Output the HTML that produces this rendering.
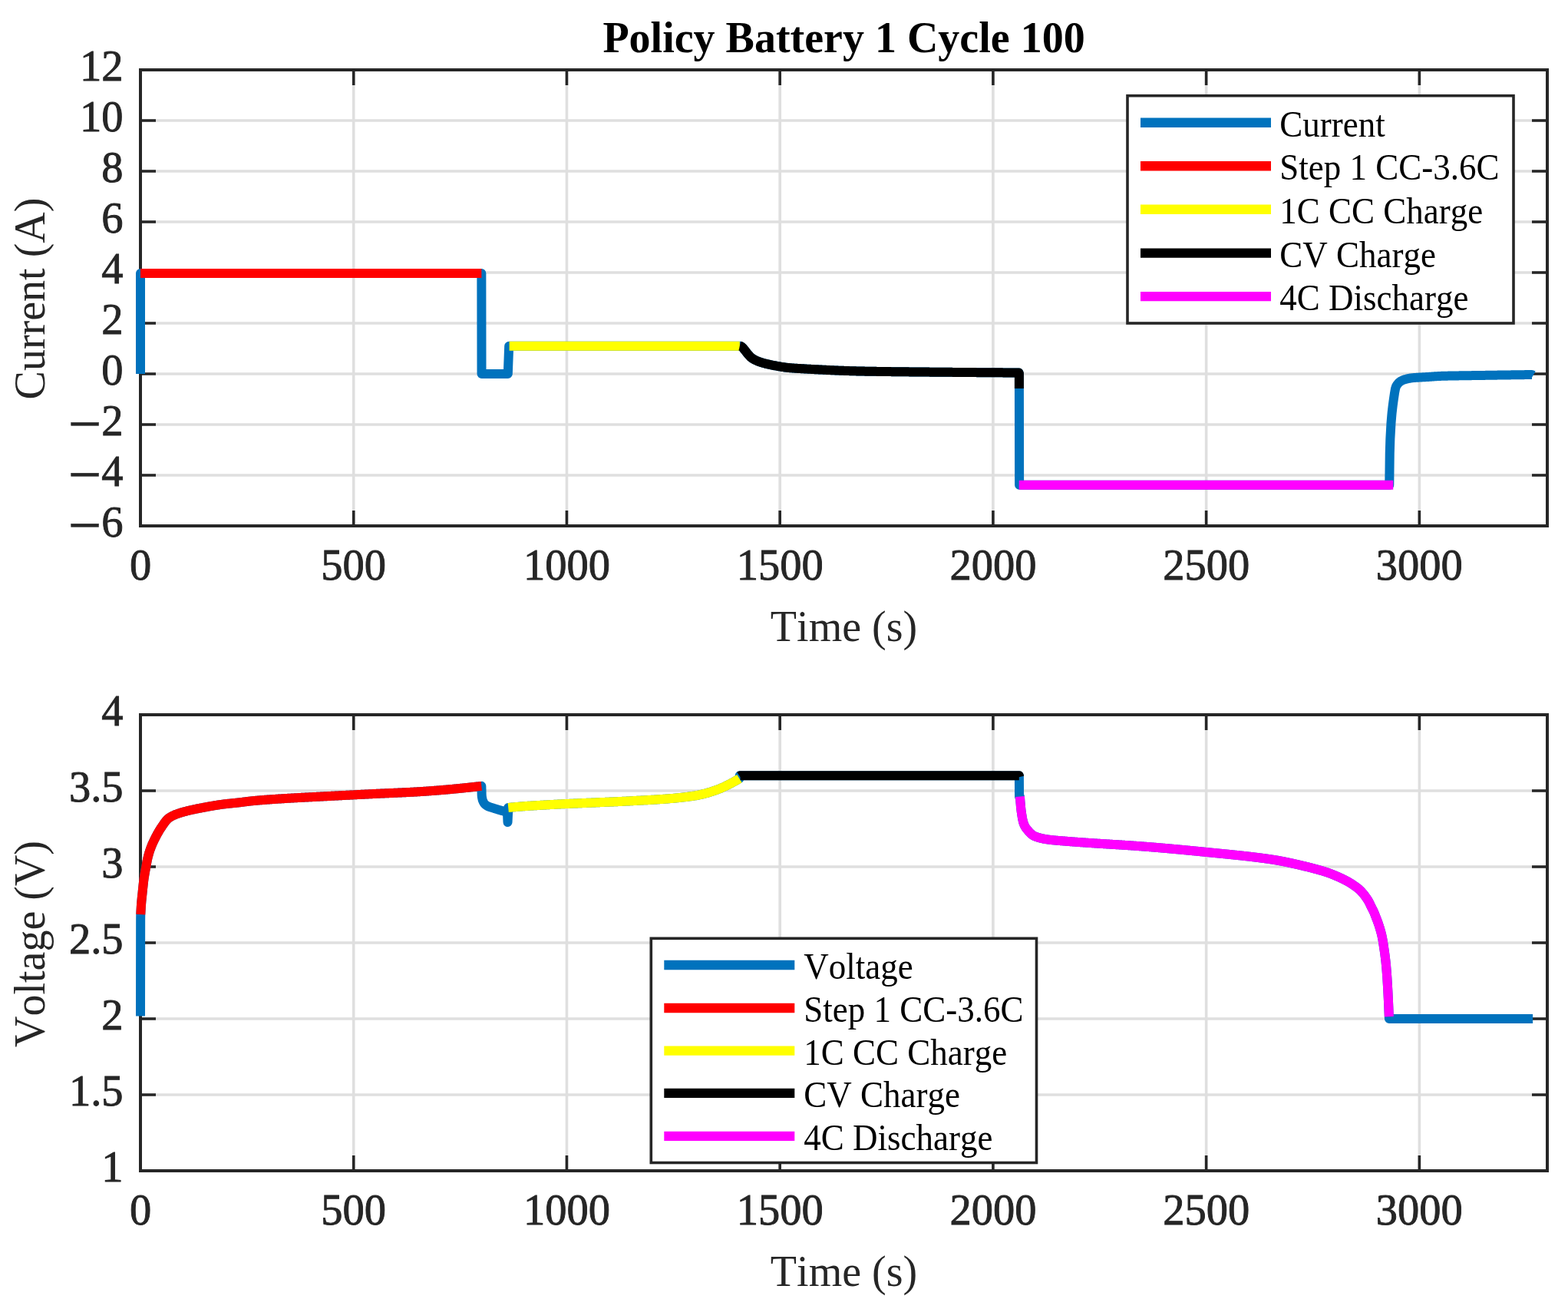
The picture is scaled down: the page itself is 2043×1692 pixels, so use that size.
<!DOCTYPE html>
<html><head><meta charset="utf-8"><title>Policy Battery 1 Cycle 100</title>
<style>
html,body{margin:0;padding:0;background:#fff;}
body{width:2043px;height:1692px;overflow:hidden;}
svg{display:block;}
text{font-family:"Liberation Serif","Times New Roman",serif;font-kerning:none;}
.tl text{font-size:56.5px;fill:#262626;stroke:#262626;stroke-width:0.9px;}
.tl .mn{font-size:77px;stroke-width:0.5px;}
.lg{font-size:45px;fill:#000;}
.al{font-size:56px;fill:#262626;}
.title{font-size:56px;font-weight:bold;fill:#000;}
</style></head><body>
<svg width="2043" height="1692" viewBox="0 0 2043 1692">
<rect width="2043" height="1692" fill="#ffffff"/>
<g id="top">
<path d="M460.73 91.00V685.00M738.45 91.00V685.00M1016.18 91.00V685.00M1293.91 91.00V685.00M1571.64 91.00V685.00M1849.36 91.00V685.00M183.00 619.00H2016.00M183.00 553.00H2016.00M183.00 487.00H2016.00M183.00 421.00H2016.00M183.00 355.00H2016.00M183.00 289.00H2016.00M183.00 223.00H2016.00M183.00 157.00H2016.00" stroke="#dfdfdf" stroke-width="3.6" fill="none"/>
<path d="M183.00 91.00v20M183.00 685.00v-20M460.73 91.00v20M460.73 685.00v-20M738.45 91.00v20M738.45 685.00v-20M1016.18 91.00v20M1016.18 685.00v-20M1293.91 91.00v20M1293.91 685.00v-20M1571.64 91.00v20M1571.64 685.00v-20M1849.36 91.00v20M1849.36 685.00v-20M183.00 685.00h20M2016.00 685.00h-20M183.00 619.00h20M2016.00 619.00h-20M183.00 553.00h20M2016.00 553.00h-20M183.00 487.00h20M2016.00 487.00h-20M183.00 421.00h20M2016.00 421.00h-20M183.00 355.00h20M2016.00 355.00h-20M183.00 289.00h20M2016.00 289.00h-20M183.00 223.00h20M2016.00 223.00h-20M183.00 157.00h20M2016.00 157.00h-20M183.00 91.00h20M2016.00 91.00h-20" stroke="#262626" stroke-width="3.6" fill="none"/>
<rect x="183.00" y="91.00" width="1833.00" height="594.00" fill="none" stroke="#262626" stroke-width="4"/>
<g fill="none" stroke-width="12" stroke-linejoin="round" stroke-linecap="butt">
<path d="M183.00 487.00L183.00 355.99L627.36 355.99L627.53 487.00L661.80 487.00L663.19 450.70L963.86 450.70L964.97 450.94L965.64 451.19L966.08 451.43L967.19 452.36L967.86 453.01L968.30 453.47L969.41 454.81L970.08 455.65L970.52 456.21L971.63 457.69L972.75 459.14L972.86 459.28L973.86 460.51L974.97 461.83L975.63 462.58L976.08 463.08L977.19 464.30L978.30 465.41L978.74 465.78L979.41 466.28L980.52 467.03L981.63 467.69L982.74 468.30L982.85 468.36L983.85 468.88L984.97 469.42L986.08 469.94L987.19 470.42L988.30 470.85L988.41 470.90L989.41 471.26L990.52 471.64L991.63 472.01L992.74 472.35L993.85 472.68L994.96 472.99L996.07 473.29L996.74 473.47L997.19 473.59L998.30 473.87L999.41 474.15L1000.52 474.41L1001.63 474.67L1002.74 474.92L1003.85 475.17L1004.96 475.40L1006.07 475.63L1007.18 475.84L1008.07 476.01L1008.29 476.05L1009.41 476.26L1010.52 476.46L1011.63 476.66L1012.74 476.86L1013.85 477.06L1014.96 477.25L1016.07 477.44L1017.18 477.62L1018.29 477.80L1019.40 477.97L1020.51 478.14L1021.63 478.30L1022.74 478.45L1023.85 478.59L1024.96 478.73L1026.07 478.85L1027.18 478.97L1027.68 479.01L1028.29 479.07L1029.40 479.17L1030.51 479.27L1031.62 479.36L1032.73 479.45L1033.85 479.53L1034.96 479.61L1036.07 479.69L1037.18 479.76L1038.29 479.84L1039.40 479.91L1040.51 479.98L1041.62 480.04L1042.73 480.11L1043.84 480.17L1044.95 480.24L1046.07 480.30L1047.18 480.36L1048.29 480.43L1049.40 480.49L1049.51 480.50L1050.51 480.56L1051.62 480.62L1052.73 480.68L1053.84 480.74L1054.95 480.80L1056.06 480.86L1057.17 480.92L1058.29 480.97L1059.40 481.03L1060.51 481.09L1061.62 481.14L1062.73 481.20L1063.84 481.25L1064.95 481.30L1066.06 481.36L1066.73 481.39L1067.17 481.41L1068.28 481.47L1069.39 481.52L1070.51 481.58L1071.62 481.63L1072.73 481.69L1073.84 481.74L1074.95 481.80L1076.06 481.85L1077.17 481.90L1078.28 481.96L1079.39 482.01L1080.50 482.07L1081.61 482.12L1082.73 482.17L1083.84 482.23L1084.95 482.28L1086.06 482.33L1087.17 482.38L1088.28 482.43L1089.39 482.48L1090.50 482.53L1091.61 482.57L1092.72 482.62L1093.83 482.66L1094.95 482.71L1096.06 482.75L1097.17 482.79L1098.28 482.83L1099.39 482.87L1099.50 482.88L1100.50 482.91L1101.61 482.95L1102.72 482.98L1103.83 483.02L1104.94 483.06L1106.05 483.09L1107.17 483.13L1108.28 483.16L1109.39 483.20L1110.50 483.23L1111.61 483.26L1112.72 483.29L1113.83 483.32L1114.94 483.35L1116.05 483.38L1117.16 483.41L1118.27 483.44L1119.39 483.47L1120.50 483.49L1121.61 483.52L1122.72 483.54L1123.83 483.57L1124.94 483.59L1125.61 483.60L1126.05 483.61L1127.16 483.63L1128.27 483.65L1129.38 483.67L1130.49 483.69L1131.61 483.71L1132.72 483.73L1133.83 483.75L1134.94 483.76L1136.05 483.78L1137.16 483.80L1138.27 483.82L1139.38 483.83L1140.49 483.85L1141.60 483.87L1142.71 483.88L1143.83 483.90L1144.94 483.92L1146.05 483.93L1147.16 483.95L1148.27 483.96L1149.38 483.98L1150.49 483.99L1151.60 484.01L1152.71 484.02L1153.82 484.03L1154.93 484.05L1156.05 484.06L1157.16 484.08L1158.27 484.09L1159.38 484.10L1160.49 484.11L1161.60 484.13L1162.71 484.14L1163.82 484.15L1164.93 484.17L1166.04 484.18L1167.15 484.19L1168.27 484.20L1169.38 484.22L1170.49 484.23L1171.60 484.24L1172.71 484.25L1173.82 484.26L1174.93 484.28L1176.04 484.29L1177.15 484.30L1178.26 484.31L1179.37 484.32L1180.49 484.34L1181.60 484.35L1182.71 484.36L1182.82 484.36L1183.82 484.37L1184.93 484.38L1186.04 484.39L1187.15 484.41L1188.26 484.42L1189.37 484.43L1190.48 484.44L1191.59 484.45L1192.71 484.46L1193.82 484.47L1194.93 484.48L1196.04 484.49L1197.15 484.50L1198.26 484.51L1199.37 484.52L1200.48 484.53L1201.59 484.54L1202.70 484.55L1203.81 484.56L1204.93 484.57L1206.04 484.58L1207.15 484.59L1208.26 484.60L1209.37 484.61L1210.48 484.62L1211.59 484.63L1212.70 484.64L1213.81 484.65L1214.92 484.66L1216.03 484.67L1217.15 484.68L1218.26 484.69L1219.37 484.70L1220.48 484.71L1221.59 484.72L1222.70 484.73L1223.81 484.74L1224.92 484.74L1226.03 484.75L1227.14 484.76L1228.25 484.77L1229.37 484.78L1230.48 484.79L1231.59 484.80L1232.70 484.81L1233.81 484.82L1234.92 484.83L1236.03 484.84L1237.14 484.84L1238.25 484.85L1238.36 484.86L1239.36 484.86L1240.47 484.87L1241.59 484.88L1242.70 484.89L1243.81 484.90L1244.92 484.91L1246.03 484.92L1247.14 484.93L1248.25 484.94L1249.36 484.94L1250.47 484.95L1251.58 484.96L1252.69 484.97L1253.81 484.98L1254.92 484.99L1256.03 485.00L1257.14 485.01L1258.25 485.02L1259.36 485.02L1260.47 485.03L1261.58 485.04L1262.69 485.05L1263.80 485.06L1264.91 485.07L1266.03 485.08L1267.14 485.08L1268.25 485.09L1269.36 485.10L1270.47 485.11L1271.58 485.12L1272.69 485.13L1273.80 485.14L1274.91 485.14L1276.02 485.15L1277.13 485.16L1278.25 485.17L1279.36 485.18L1280.47 485.19L1281.58 485.19L1282.69 485.20L1283.80 485.21L1284.91 485.22L1286.02 485.23L1287.13 485.23L1288.24 485.24L1289.35 485.25L1290.47 485.26L1291.58 485.27L1292.69 485.28L1293.80 485.28L1293.91 485.28L1294.91 485.29L1296.02 485.30L1297.13 485.31L1298.24 485.32L1299.35 485.32L1300.46 485.33L1301.57 485.34L1302.69 485.35L1303.80 485.35L1304.91 485.36L1306.02 485.37L1307.13 485.38L1308.24 485.39L1309.35 485.39L1310.46 485.40L1311.57 485.41L1312.68 485.42L1313.79 485.42L1314.91 485.43L1316.02 485.44L1317.13 485.45L1318.24 485.45L1319.35 485.46L1320.46 485.47L1321.57 485.48L1322.68 485.48L1323.79 485.49L1324.90 485.50L1326.01 485.51L1327.13 485.51L1327.51 485.52L1327.90 487.00L1328.13 631.87L1810.26 631.87L1810.76 590.62L1811.37 571.06L1812.48 551.13L1812.54 550.36L1813.59 537.95L1814.70 528.37L1815.26 524.29L1815.81 520.28L1816.93 512.56L1818.04 506.36L1819.04 503.17L1819.15 502.98L1820.26 501.25L1821.37 499.79L1822.48 498.58L1823.59 497.58L1824.70 496.76L1825.81 496.09L1826.92 495.54L1828.03 495.08L1829.15 494.68L1830.26 494.31L1831.37 493.97L1832.48 493.66L1833.59 493.39L1834.70 493.14L1835.81 492.91L1836.92 492.72L1838.03 492.55L1839.14 492.40L1840.14 492.28L1840.25 492.27L1841.37 492.15L1842.48 492.05L1843.59 491.95L1844.70 491.87L1845.81 491.78L1846.92 491.71L1848.03 491.64L1849.14 491.57L1850.25 491.51L1851.36 491.44L1852.47 491.39L1853.59 491.33L1854.70 491.27L1855.81 491.21L1856.92 491.15L1858.03 491.09L1859.14 491.03L1860.25 490.96L1861.36 490.89L1862.47 490.81L1863.58 490.74L1864.69 490.66L1865.81 490.58L1866.92 490.50L1868.03 490.43L1869.14 490.35L1870.25 490.27L1871.36 490.20L1872.47 490.13L1873.58 490.07L1874.69 490.00L1875.80 489.95L1876.91 489.90L1878.03 489.85L1879.14 489.81L1879.36 489.81L1880.25 489.78L1881.36 489.75L1882.47 489.72L1883.58 489.69L1884.69 489.66L1885.80 489.64L1886.91 489.61L1888.02 489.59L1889.13 489.57L1890.25 489.55L1891.36 489.53L1892.47 489.51L1893.58 489.49L1894.69 489.47L1895.80 489.45L1896.91 489.44L1898.02 489.42L1899.13 489.40L1900.24 489.38L1901.35 489.37L1902.47 489.35L1903.58 489.33L1904.69 489.31L1904.91 489.31L1905.80 489.30L1906.91 489.28L1908.02 489.26L1909.13 489.24L1910.24 489.23L1911.35 489.21L1912.46 489.19L1913.57 489.18L1914.69 489.16L1915.80 489.15L1916.91 489.13L1918.02 489.12L1919.13 489.10L1920.24 489.09L1921.35 489.07L1922.46 489.06L1923.57 489.04L1924.68 489.03L1925.79 489.01L1926.91 489.00L1928.02 488.98L1929.13 488.97L1930.24 488.95L1931.35 488.93L1932.46 488.92L1932.68 488.91L1933.57 488.90L1934.68 488.88L1935.79 488.87L1936.90 488.85L1938.01 488.83L1939.13 488.82L1940.24 488.80L1941.35 488.78L1942.46 488.76L1943.57 488.75L1944.68 488.73L1945.79 488.71L1946.90 488.69L1948.01 488.68L1949.12 488.66L1950.23 488.64L1951.35 488.62L1952.46 488.61L1953.57 488.59L1954.68 488.57L1955.79 488.55L1956.90 488.54L1958.01 488.52L1959.12 488.50L1960.23 488.49L1960.45 488.48L1961.34 488.47L1962.45 488.46L1963.57 488.44L1964.68 488.42L1965.79 488.41L1966.90 488.39L1968.01 488.38L1969.12 488.36L1970.23 488.34L1971.34 488.33L1972.45 488.31L1973.56 488.30L1974.67 488.28L1975.79 488.26L1976.90 488.25L1978.01 488.23L1979.12 488.22L1980.23 488.20L1981.34 488.19L1982.45 488.17L1983.56 488.16L1984.67 488.14L1985.78 488.13L1986.89 488.11L1988.01 488.10L1989.12 488.08L1990.23 488.07L1991.34 488.05L1992.45 488.04L1993.56 488.02L1994.67 488.01L1995.78 487.99L1996.00 487.99L1996.84 488.32L1997.67 488.81" stroke="#0072BD"/>
<path d="M183.00 355.99L627.36 355.99" stroke="#FF0000"/>
<path d="M663.63 450.70L963.86 450.70" stroke="#FFFF00"/>
<path d="M963.86 450.70L964.97 450.94L965.64 451.19L966.08 451.43L967.19 452.36L967.86 453.01L968.30 453.47L969.41 454.81L970.08 455.65L970.52 456.21L971.63 457.69L972.75 459.14L972.86 459.28L973.86 460.51L974.97 461.83L975.63 462.58L976.08 463.08L977.19 464.30L978.30 465.41L978.74 465.78L979.41 466.28L980.52 467.03L981.63 467.69L982.74 468.30L982.85 468.36L983.85 468.88L984.97 469.42L986.08 469.94L987.19 470.42L988.30 470.85L988.41 470.90L989.41 471.26L990.52 471.64L991.63 472.01L992.74 472.35L993.85 472.68L994.96 472.99L996.07 473.29L996.74 473.47L997.19 473.59L998.30 473.87L999.41 474.15L1000.52 474.41L1001.63 474.67L1002.74 474.92L1003.85 475.17L1004.96 475.40L1006.07 475.63L1007.18 475.84L1008.07 476.01L1008.29 476.05L1009.41 476.26L1010.52 476.46L1011.63 476.66L1012.74 476.86L1013.85 477.06L1014.96 477.25L1016.07 477.44L1017.18 477.62L1018.29 477.80L1019.40 477.97L1020.51 478.14L1021.63 478.30L1022.74 478.45L1023.85 478.59L1024.96 478.73L1026.07 478.85L1027.18 478.97L1027.68 479.01L1028.29 479.07L1029.40 479.17L1030.51 479.27L1031.62 479.36L1032.73 479.45L1033.85 479.53L1034.96 479.61L1036.07 479.69L1037.18 479.76L1038.29 479.84L1039.40 479.91L1040.51 479.98L1041.62 480.04L1042.73 480.11L1043.84 480.17L1044.95 480.24L1046.07 480.30L1047.18 480.36L1048.29 480.43L1049.40 480.49L1049.51 480.50L1050.51 480.56L1051.62 480.62L1052.73 480.68L1053.84 480.74L1054.95 480.80L1056.06 480.86L1057.17 480.92L1058.29 480.97L1059.40 481.03L1060.51 481.09L1061.62 481.14L1062.73 481.20L1063.84 481.25L1064.95 481.30L1066.06 481.36L1066.73 481.39L1067.17 481.41L1068.28 481.47L1069.39 481.52L1070.51 481.58L1071.62 481.63L1072.73 481.69L1073.84 481.74L1074.95 481.80L1076.06 481.85L1077.17 481.90L1078.28 481.96L1079.39 482.01L1080.50 482.07L1081.61 482.12L1082.73 482.17L1083.84 482.23L1084.95 482.28L1086.06 482.33L1087.17 482.38L1088.28 482.43L1089.39 482.48L1090.50 482.53L1091.61 482.57L1092.72 482.62L1093.83 482.66L1094.95 482.71L1096.06 482.75L1097.17 482.79L1098.28 482.83L1099.39 482.87L1099.50 482.88L1100.50 482.91L1101.61 482.95L1102.72 482.98L1103.83 483.02L1104.94 483.06L1106.05 483.09L1107.17 483.13L1108.28 483.16L1109.39 483.20L1110.50 483.23L1111.61 483.26L1112.72 483.29L1113.83 483.32L1114.94 483.35L1116.05 483.38L1117.16 483.41L1118.27 483.44L1119.39 483.47L1120.50 483.49L1121.61 483.52L1122.72 483.54L1123.83 483.57L1124.94 483.59L1125.61 483.60L1126.05 483.61L1127.16 483.63L1128.27 483.65L1129.38 483.67L1130.49 483.69L1131.61 483.71L1132.72 483.73L1133.83 483.75L1134.94 483.76L1136.05 483.78L1137.16 483.80L1138.27 483.82L1139.38 483.83L1140.49 483.85L1141.60 483.87L1142.71 483.88L1143.83 483.90L1144.94 483.92L1146.05 483.93L1147.16 483.95L1148.27 483.96L1149.38 483.98L1150.49 483.99L1151.60 484.01L1152.71 484.02L1153.82 484.03L1154.93 484.05L1156.05 484.06L1157.16 484.08L1158.27 484.09L1159.38 484.10L1160.49 484.11L1161.60 484.13L1162.71 484.14L1163.82 484.15L1164.93 484.17L1166.04 484.18L1167.15 484.19L1168.27 484.20L1169.38 484.22L1170.49 484.23L1171.60 484.24L1172.71 484.25L1173.82 484.26L1174.93 484.28L1176.04 484.29L1177.15 484.30L1178.26 484.31L1179.37 484.32L1180.49 484.34L1181.60 484.35L1182.71 484.36L1182.82 484.36L1183.82 484.37L1184.93 484.38L1186.04 484.39L1187.15 484.41L1188.26 484.42L1189.37 484.43L1190.48 484.44L1191.59 484.45L1192.71 484.46L1193.82 484.47L1194.93 484.48L1196.04 484.49L1197.15 484.50L1198.26 484.51L1199.37 484.52L1200.48 484.53L1201.59 484.54L1202.70 484.55L1203.81 484.56L1204.93 484.57L1206.04 484.58L1207.15 484.59L1208.26 484.60L1209.37 484.61L1210.48 484.62L1211.59 484.63L1212.70 484.64L1213.81 484.65L1214.92 484.66L1216.03 484.67L1217.15 484.68L1218.26 484.69L1219.37 484.70L1220.48 484.71L1221.59 484.72L1222.70 484.73L1223.81 484.74L1224.92 484.74L1226.03 484.75L1227.14 484.76L1228.25 484.77L1229.37 484.78L1230.48 484.79L1231.59 484.80L1232.70 484.81L1233.81 484.82L1234.92 484.83L1236.03 484.84L1237.14 484.84L1238.25 484.85L1238.36 484.86L1239.36 484.86L1240.47 484.87L1241.59 484.88L1242.70 484.89L1243.81 484.90L1244.92 484.91L1246.03 484.92L1247.14 484.93L1248.25 484.94L1249.36 484.94L1250.47 484.95L1251.58 484.96L1252.69 484.97L1253.81 484.98L1254.92 484.99L1256.03 485.00L1257.14 485.01L1258.25 485.02L1259.36 485.02L1260.47 485.03L1261.58 485.04L1262.69 485.05L1263.80 485.06L1264.91 485.07L1266.03 485.08L1267.14 485.08L1268.25 485.09L1269.36 485.10L1270.47 485.11L1271.58 485.12L1272.69 485.13L1273.80 485.14L1274.91 485.14L1276.02 485.15L1277.13 485.16L1278.25 485.17L1279.36 485.18L1280.47 485.19L1281.58 485.19L1282.69 485.20L1283.80 485.21L1284.91 485.22L1286.02 485.23L1287.13 485.23L1288.24 485.24L1289.35 485.25L1290.47 485.26L1291.58 485.27L1292.69 485.28L1293.80 485.28L1293.91 485.28L1294.91 485.29L1296.02 485.30L1297.13 485.31L1298.24 485.32L1299.35 485.32L1300.46 485.33L1301.57 485.34L1302.69 485.35L1303.80 485.35L1304.91 485.36L1306.02 485.37L1307.13 485.38L1308.24 485.39L1309.35 485.39L1310.46 485.40L1311.57 485.41L1312.68 485.42L1313.79 485.42L1314.91 485.43L1316.02 485.44L1317.13 485.45L1318.24 485.45L1319.35 485.46L1320.46 485.47L1321.57 485.48L1322.68 485.48L1323.79 485.49L1324.90 485.50L1326.01 485.51L1327.13 485.51L1327.51 485.52L1327.90 486.34L1327.90 506.01" stroke="#000000"/>
<path d="M1327.68 631.87L1815.20 631.87" stroke="#FF00FF"/>
</g>
<g class="tl"><text x="183.00" y="755.00" text-anchor="middle">0</text><text x="460.73" y="755.00" text-anchor="middle">500</text><text x="738.45" y="755.00" text-anchor="middle">1000</text><text x="1016.18" y="755.00" text-anchor="middle">1500</text><text x="1293.91" y="755.00" text-anchor="middle">2000</text><text x="1571.64" y="755.00" text-anchor="middle">2500</text><text x="1849.36" y="755.00" text-anchor="middle">3000</text><text x="160.50" y="699.00" text-anchor="end"><tspan class="mn" dy="10.6">−</tspan><tspan dy="-10.6">6</tspan></text><text x="160.50" y="633.00" text-anchor="end"><tspan class="mn" dy="10.6">−</tspan><tspan dy="-10.6">4</tspan></text><text x="160.50" y="567.00" text-anchor="end"><tspan class="mn" dy="10.6">−</tspan><tspan dy="-10.6">2</tspan></text><text x="160.50" y="501.00" text-anchor="end">0</text><text x="160.50" y="435.00" text-anchor="end">2</text><text x="160.50" y="369.00" text-anchor="end">4</text><text x="160.50" y="303.00" text-anchor="end">6</text><text x="160.50" y="237.00" text-anchor="end">8</text><text x="160.50" y="171.00" text-anchor="end">10</text><text x="160.50" y="105.00" text-anchor="end">12</text></g>
<rect x="1469.00" y="124.70" width="503.00" height="296.30" fill="#ffffff" stroke="#262626" stroke-width="3.6"/>
<path d="M1486.00 159.80H1656.00" stroke="#0072BD" stroke-width="12.4"/>
<text class="lg" transform="translate(1667.20 177.70) scale(1 1.08)">Current</text>
<path d="M1486.00 216.30H1656.00" stroke="#FF0000" stroke-width="12.4"/>
<text class="lg" transform="translate(1667.20 234.20) scale(1 1.08)">Step 1 CC-3.6C</text>
<path d="M1486.00 272.80H1656.00" stroke="#FFFF00" stroke-width="12.4"/>
<text class="lg" transform="translate(1667.20 290.70) scale(1 1.08)">1C CC Charge</text>
<path d="M1486.00 329.60H1656.00" stroke="#000000" stroke-width="12.4"/>
<text class="lg" transform="translate(1667.20 347.50) scale(1 1.08)">CV Charge</text>
<path d="M1486.00 386.10H1656.00" stroke="#FF00FF" stroke-width="12.4"/>
<text class="lg" transform="translate(1667.20 404.00) scale(1 1.08)">4C Discharge</text>
</g>
<g id="bot">
<path d="M460.73 931.00V1525.00M738.45 931.00V1525.00M1016.18 931.00V1525.00M1293.91 931.00V1525.00M1571.64 931.00V1525.00M1849.36 931.00V1525.00M183.00 1426.00H2016.00M183.00 1327.00H2016.00M183.00 1228.00H2016.00M183.00 1129.00H2016.00M183.00 1030.00H2016.00" stroke="#dfdfdf" stroke-width="3.6" fill="none"/>
<path d="M183.00 931.00v20M183.00 1525.00v-20M460.73 931.00v20M460.73 1525.00v-20M738.45 931.00v20M738.45 1525.00v-20M1016.18 931.00v20M1016.18 1525.00v-20M1293.91 931.00v20M1293.91 1525.00v-20M1571.64 931.00v20M1571.64 1525.00v-20M1849.36 931.00v20M1849.36 1525.00v-20M183.00 1525.00h20M2016.00 1525.00h-20M183.00 1426.00h20M2016.00 1426.00h-20M183.00 1327.00h20M2016.00 1327.00h-20M183.00 1228.00h20M2016.00 1228.00h-20M183.00 1129.00h20M2016.00 1129.00h-20M183.00 1030.00h20M2016.00 1030.00h-20M183.00 931.00h20M2016.00 931.00h-20" stroke="#262626" stroke-width="3.6" fill="none"/>
<rect x="183.00" y="931.00" width="1833.00" height="594.00" fill="none" stroke="#262626" stroke-width="4"/>
<g fill="none" stroke-width="12" stroke-linejoin="round" stroke-linecap="butt">
<path d="M183.00 1323.44L183.17 1198.30L183.27 1191.17L183.83 1181.35L184.12 1177.11L184.38 1174.00L184.94 1168.40L185.49 1163.28L185.54 1162.86L186.05 1157.90L186.60 1152.57L187.16 1147.66L187.53 1144.84L187.72 1143.52L188.27 1139.97L188.83 1136.77L189.38 1133.77L189.94 1130.82L190.13 1129.79L190.49 1127.77L191.05 1124.69L191.60 1121.71L192.16 1118.98L192.49 1117.52L192.71 1116.60L193.27 1114.43L193.83 1112.41L194.38 1110.52L194.94 1108.76L195.49 1107.11L195.80 1106.23L196.05 1105.56L196.60 1104.07L197.16 1102.65L197.71 1101.28L198.27 1099.96L198.82 1098.69L199.38 1097.46L199.94 1096.26L200.49 1095.09L201.05 1093.95L201.60 1092.83L202.16 1091.73L202.71 1090.64L202.84 1090.39L203.27 1089.56L203.82 1088.50L204.38 1087.45L204.93 1086.43L205.49 1085.42L206.05 1084.44L206.60 1083.47L207.16 1082.53L207.71 1081.60L208.27 1080.70L208.82 1079.81L209.38 1078.95L209.93 1078.11L210.20 1077.72L210.49 1077.29L211.04 1076.47L211.60 1075.65L212.16 1074.83L212.71 1074.01L213.27 1073.21L213.82 1072.42L214.38 1071.65L214.93 1070.89L215.49 1070.17L216.04 1069.46L216.60 1068.79L217.15 1068.16L217.71 1067.56L218.27 1067.01L218.82 1066.50L219.38 1066.04L219.38 1066.04L219.93 1065.62L220.49 1065.22L221.04 1064.83L221.60 1064.47L222.15 1064.13L222.71 1063.80L223.26 1063.48L223.82 1063.18L224.38 1062.90L224.93 1062.62L225.49 1062.35L226.04 1062.10L226.60 1061.85L226.99 1061.68L227.15 1061.61L227.71 1061.38L228.26 1061.15L228.82 1060.92L229.37 1060.71L229.93 1060.49L230.49 1060.28L231.04 1060.08L231.60 1059.88L232.15 1059.69L232.71 1059.50L233.26 1059.31L233.82 1059.13L234.37 1058.95L234.93 1058.77L235.48 1058.60L236.04 1058.43L236.60 1058.26L237.15 1058.10L237.71 1057.94L238.26 1057.78L238.82 1057.63L239.37 1057.47L239.93 1057.32L240.48 1057.17L241.04 1057.02L241.38 1056.93L241.59 1056.87L242.15 1056.72L242.71 1056.58L243.26 1056.44L243.82 1056.30L244.37 1056.16L244.93 1056.02L245.48 1055.89L246.04 1055.76L246.59 1055.63L247.15 1055.50L247.70 1055.37L248.26 1055.24L248.82 1055.12L249.37 1054.99L249.93 1054.87L250.48 1054.75L251.04 1054.63L251.59 1054.51L252.15 1054.39L252.70 1054.28L253.26 1054.16L253.81 1054.05L254.37 1053.93L254.93 1053.82L255.48 1053.71L256.04 1053.60L256.59 1053.48L257.15 1053.37L257.70 1053.27L258.26 1053.16L258.81 1053.05L259.37 1052.94L259.92 1052.83L260.48 1052.72L261.04 1052.62L261.26 1052.57L261.59 1052.51L262.15 1052.40L262.70 1052.29L263.26 1052.19L263.81 1052.08L264.37 1051.97L264.92 1051.87L265.48 1051.76L266.03 1051.66L266.59 1051.55L267.15 1051.45L267.70 1051.34L268.26 1051.24L268.81 1051.13L269.37 1051.03L269.92 1050.93L270.48 1050.82L271.03 1050.72L271.59 1050.62L272.14 1050.52L272.70 1050.42L273.26 1050.32L273.81 1050.22L274.37 1050.12L274.92 1050.02L275.48 1049.92L276.03 1049.83L276.59 1049.73L277.14 1049.64L277.70 1049.54L278.25 1049.45L278.81 1049.35L279.37 1049.26L279.92 1049.17L280.48 1049.08L281.03 1048.99L281.59 1048.90L282.14 1048.81L282.70 1048.72L283.25 1048.63L283.81 1048.55L284.36 1048.46L284.92 1048.38L285.48 1048.30L286.03 1048.22L286.59 1048.14L287.14 1048.06L287.70 1047.98L288.25 1047.90L288.81 1047.82L289.36 1047.75L289.92 1047.67L290.31 1047.62L290.47 1047.60L291.03 1047.53L291.59 1047.46L292.14 1047.39L292.70 1047.32L293.25 1047.26L293.81 1047.19L294.36 1047.13L294.92 1047.07L295.47 1047.00L296.03 1046.94L296.58 1046.88L297.14 1046.82L297.70 1046.76L298.25 1046.71L298.81 1046.65L299.36 1046.59L299.92 1046.53L300.47 1046.48L301.03 1046.42L301.58 1046.37L302.14 1046.31L302.69 1046.25L303.25 1046.20L303.81 1046.14L304.36 1046.09L304.92 1046.03L305.47 1045.97L306.03 1045.92L306.58 1045.86L307.14 1045.80L307.69 1045.74L308.25 1045.68L308.80 1045.62L309.36 1045.56L309.92 1045.50L310.42 1045.44L310.47 1045.44L311.03 1045.37L311.58 1045.31L312.14 1045.25L312.69 1045.18L313.25 1045.11L313.80 1045.04L314.36 1044.98L314.91 1044.91L315.47 1044.84L316.03 1044.77L316.58 1044.70L317.14 1044.63L317.69 1044.56L318.25 1044.49L318.80 1044.42L319.36 1044.35L319.91 1044.28L320.47 1044.21L321.02 1044.14L321.58 1044.07L322.14 1044.00L322.69 1043.93L323.25 1043.86L323.80 1043.80L324.36 1043.73L324.91 1043.66L325.47 1043.60L326.02 1043.54L326.58 1043.47L327.13 1043.41L327.69 1043.35L328.25 1043.29L328.80 1043.24L329.36 1043.18L329.91 1043.13L330.47 1043.07L330.53 1043.07L331.02 1043.02L331.58 1042.97L332.13 1042.92L332.69 1042.87L333.24 1042.82L333.80 1042.77L334.36 1042.72L334.91 1042.67L335.47 1042.62L336.02 1042.58L336.58 1042.53L337.13 1042.48L337.69 1042.43L338.24 1042.39L338.80 1042.34L339.35 1042.29L339.91 1042.25L340.47 1042.20L341.02 1042.16L341.58 1042.11L342.13 1042.07L342.69 1042.03L343.24 1041.98L343.80 1041.94L344.35 1041.90L344.91 1041.85L345.46 1041.81L346.02 1041.77L346.58 1041.73L347.13 1041.68L347.69 1041.64L348.24 1041.60L348.80 1041.56L349.35 1041.52L349.91 1041.48L350.46 1041.44L351.02 1041.40L351.57 1041.36L352.13 1041.32L352.69 1041.28L353.24 1041.24L353.80 1041.20L354.35 1041.17L354.91 1041.13L355.46 1041.09L356.02 1041.05L356.57 1041.01L357.13 1040.98L357.68 1040.94L358.24 1040.90L358.80 1040.86L359.35 1040.83L359.91 1040.79L360.46 1040.75L361.02 1040.72L361.57 1040.68L362.13 1040.64L362.68 1040.61L363.24 1040.57L363.79 1040.54L364.35 1040.50L364.91 1040.47L365.46 1040.43L366.02 1040.40L366.57 1040.36L367.13 1040.32L367.68 1040.29L368.24 1040.25L368.79 1040.22L369.35 1040.19L369.90 1040.15L370.46 1040.12L370.74 1040.10L371.02 1040.08L371.57 1040.05L372.13 1040.01L372.68 1039.98L373.24 1039.94L373.79 1039.91L374.35 1039.88L374.90 1039.84L375.46 1039.81L376.01 1039.78L376.57 1039.75L377.13 1039.71L377.68 1039.68L378.24 1039.65L378.79 1039.62L379.35 1039.59L379.90 1039.55L380.46 1039.52L381.01 1039.49L381.57 1039.46L382.12 1039.43L382.68 1039.40L383.24 1039.37L383.79 1039.34L384.35 1039.31L384.90 1039.28L385.46 1039.25L386.01 1039.22L386.57 1039.19L387.12 1039.16L387.68 1039.13L388.23 1039.10L388.79 1039.07L389.35 1039.04L389.90 1039.01L390.46 1038.98L391.01 1038.95L391.57 1038.92L392.12 1038.89L392.68 1038.86L393.23 1038.83L393.79 1038.80L394.34 1038.78L394.90 1038.75L395.46 1038.72L396.01 1038.69L396.57 1038.66L397.12 1038.63L397.68 1038.60L398.23 1038.58L398.79 1038.55L399.34 1038.52L399.90 1038.49L400.45 1038.46L401.01 1038.44L401.57 1038.41L402.12 1038.38L402.68 1038.35L403.23 1038.32L403.79 1038.30L404.34 1038.27L404.90 1038.24L405.45 1038.21L406.01 1038.18L406.56 1038.16L407.12 1038.13L407.68 1038.10L408.23 1038.07L408.79 1038.04L409.34 1038.01L409.90 1037.99L410.45 1037.96L411.01 1037.93L411.56 1037.90L412.12 1037.87L412.67 1037.85L413.23 1037.82L413.79 1037.79L414.34 1037.76L414.90 1037.73L415.45 1037.70L416.01 1037.67L416.56 1037.65L417.12 1037.62L417.67 1037.59L418.23 1037.56L418.78 1037.53L418.90 1037.52L419.34 1037.50L419.90 1037.47L420.45 1037.44L421.01 1037.41L421.56 1037.38L422.12 1037.36L422.67 1037.33L423.23 1037.30L423.78 1037.27L424.34 1037.24L424.89 1037.21L425.45 1037.18L426.01 1037.15L426.56 1037.12L427.12 1037.09L427.67 1037.07L428.23 1037.04L428.78 1037.01L429.34 1036.98L429.89 1036.95L430.45 1036.92L431.00 1036.89L431.56 1036.86L432.12 1036.83L432.67 1036.80L433.23 1036.78L433.78 1036.75L434.34 1036.72L434.89 1036.69L435.45 1036.66L436.00 1036.63L436.56 1036.60L437.11 1036.57L437.67 1036.54L438.23 1036.52L438.78 1036.49L439.34 1036.46L439.89 1036.43L440.45 1036.40L441.00 1036.37L441.56 1036.34L442.11 1036.31L442.67 1036.29L443.22 1036.26L443.78 1036.23L444.34 1036.20L444.89 1036.17L445.45 1036.14L446.00 1036.11L446.56 1036.08L447.11 1036.06L447.67 1036.03L448.22 1036.00L448.78 1035.97L449.33 1035.94L449.89 1035.91L450.45 1035.88L451.00 1035.85L451.56 1035.83L452.11 1035.80L452.67 1035.77L453.22 1035.74L453.78 1035.71L454.33 1035.68L454.89 1035.65L455.44 1035.63L456.00 1035.60L456.56 1035.57L457.11 1035.54L457.67 1035.51L458.22 1035.48L458.78 1035.46L459.33 1035.43L459.89 1035.40L460.44 1035.37L461.00 1035.34L461.55 1035.31L462.11 1035.29L462.67 1035.26L463.22 1035.23L463.78 1035.20L464.33 1035.17L464.89 1035.14L465.44 1035.12L466.00 1035.09L466.55 1035.06L467.11 1035.03L467.66 1035.00L468.22 1034.97L468.78 1034.95L469.33 1034.92L469.89 1034.89L470.44 1034.86L471.00 1034.83L471.55 1034.81L472.11 1034.78L472.66 1034.75L473.22 1034.72L473.77 1034.69L474.33 1034.67L474.89 1034.64L475.44 1034.61L476.00 1034.58L476.55 1034.55L477.11 1034.53L477.66 1034.50L478.22 1034.47L478.77 1034.44L479.33 1034.42L479.88 1034.39L480.44 1034.36L481.00 1034.33L481.55 1034.30L482.11 1034.28L482.66 1034.25L483.22 1034.22L483.77 1034.19L484.33 1034.17L484.88 1034.14L485.44 1034.11L485.99 1034.08L486.55 1034.06L487.11 1034.03L487.66 1034.00L488.22 1033.97L488.50 1033.96L488.77 1033.95L489.33 1033.92L489.88 1033.89L490.44 1033.87L490.99 1033.84L491.55 1033.81L492.10 1033.79L492.66 1033.76L493.22 1033.73L493.77 1033.71L494.33 1033.68L494.88 1033.66L495.44 1033.63L495.99 1033.60L496.55 1033.58L497.10 1033.55L497.66 1033.53L498.21 1033.50L498.77 1033.48L499.33 1033.45L499.88 1033.43L500.44 1033.40L500.99 1033.38L501.55 1033.36L502.10 1033.33L502.66 1033.31L503.21 1033.28L503.77 1033.26L504.32 1033.23L504.88 1033.21L505.44 1033.19L505.99 1033.16L506.55 1033.14L507.10 1033.11L507.66 1033.09L508.21 1033.07L508.77 1033.04L509.32 1033.02L509.88 1032.99L510.43 1032.97L510.99 1032.95L511.55 1032.92L512.10 1032.90L512.66 1032.87L513.21 1032.85L513.77 1032.83L514.32 1032.80L514.88 1032.78L515.43 1032.75L515.99 1032.73L516.54 1032.70L517.10 1032.68L517.66 1032.66L518.21 1032.63L518.77 1032.61L519.32 1032.58L519.88 1032.56L520.43 1032.53L520.99 1032.51L521.54 1032.48L522.10 1032.46L522.65 1032.43L523.21 1032.41L523.77 1032.38L524.32 1032.36L524.88 1032.33L525.43 1032.31L525.99 1032.28L526.54 1032.25L527.10 1032.23L527.65 1032.20L528.21 1032.18L528.76 1032.15L529.32 1032.12L529.88 1032.10L530.43 1032.07L530.99 1032.04L531.54 1032.01L532.10 1031.99L532.65 1031.96L533.21 1031.93L533.76 1031.90L534.32 1031.87L534.87 1031.84L535.43 1031.82L535.99 1031.79L536.54 1031.76L537.10 1031.73L537.65 1031.70L538.21 1031.67L538.76 1031.64L539.32 1031.61L539.87 1031.58L540.43 1031.55L540.98 1031.52L541.54 1031.48L542.10 1031.45L542.65 1031.42L543.21 1031.39L543.76 1031.36L544.32 1031.32L544.87 1031.29L545.43 1031.26L545.98 1031.22L546.54 1031.19L546.55 1031.19L547.09 1031.15L547.65 1031.12L548.21 1031.08L548.76 1031.05L549.32 1031.01L549.87 1030.98L550.43 1030.94L550.98 1030.91L551.54 1030.87L552.09 1030.83L552.65 1030.80L553.20 1030.76L553.76 1030.72L554.32 1030.69L554.87 1030.65L555.43 1030.61L555.98 1030.57L556.54 1030.53L557.09 1030.49L557.65 1030.46L558.20 1030.42L558.76 1030.38L559.31 1030.34L559.87 1030.30L560.43 1030.26L560.98 1030.22L561.54 1030.18L562.09 1030.13L562.65 1030.09L563.20 1030.05L563.76 1030.01L564.31 1029.97L564.87 1029.93L565.42 1029.88L565.98 1029.84L566.54 1029.80L567.09 1029.76L567.65 1029.71L568.20 1029.67L568.76 1029.63L569.31 1029.58L569.87 1029.54L570.42 1029.49L570.98 1029.45L571.53 1029.40L572.09 1029.36L572.65 1029.31L573.20 1029.27L573.76 1029.22L574.31 1029.18L574.87 1029.13L575.42 1029.08L575.98 1029.04L576.53 1028.99L577.09 1028.94L577.64 1028.90L578.20 1028.85L578.76 1028.80L579.31 1028.75L579.87 1028.70L580.42 1028.66L580.98 1028.61L581.53 1028.56L582.09 1028.51L582.64 1028.46L583.20 1028.41L583.75 1028.36L584.31 1028.31L584.87 1028.26L585.42 1028.21L585.98 1028.16L586.53 1028.11L587.09 1028.06L587.64 1028.01L588.20 1027.96L588.75 1027.91L589.31 1027.85L589.86 1027.80L590.42 1027.75L590.98 1027.70L591.53 1027.64L592.09 1027.59L592.64 1027.54L593.20 1027.49L593.75 1027.43L594.31 1027.38L594.86 1027.33L595.42 1027.27L595.97 1027.22L596.53 1027.16L597.09 1027.11L597.64 1027.05L598.20 1027.00L598.75 1026.94L599.31 1026.89L599.86 1026.83L600.42 1026.78L600.97 1026.72L601.53 1026.67L602.08 1026.61L602.64 1026.55L603.20 1026.50L603.75 1026.44L604.31 1026.38L604.86 1026.33L605.42 1026.27L605.97 1026.21L606.53 1026.15L607.08 1026.10L607.64 1026.04L608.19 1025.98L608.75 1025.92L609.31 1025.86L609.86 1025.80L610.42 1025.74L610.97 1025.69L611.53 1025.63L612.08 1025.57L612.64 1025.51L613.19 1025.45L613.75 1025.39L614.30 1025.33L614.86 1025.27L615.42 1025.21L615.97 1025.14L616.53 1025.08L617.08 1025.02L617.64 1024.96L618.19 1024.90L618.75 1024.84L619.30 1024.78L619.86 1024.71L620.41 1024.65L620.97 1024.59L621.53 1024.53L622.08 1024.47L622.64 1024.40L623.19 1024.34L623.75 1024.28L624.30 1024.21L624.86 1024.15L625.41 1024.09L625.97 1024.02L626.52 1023.96L627.08 1023.89L627.36 1023.86L627.70 1035.94L627.92 1038.05L628.47 1040.99L628.75 1041.88L629.03 1042.71L629.59 1044.11L630.14 1045.23L630.70 1046.12L631.25 1046.83L631.81 1047.43L632.36 1047.97L632.92 1048.45L633.47 1048.88L634.03 1049.26L634.58 1049.61L635.14 1049.92L635.70 1050.20L636.25 1050.45L636.81 1050.69L637.36 1050.90L637.92 1051.10L638.47 1051.29L639.03 1051.46L639.58 1051.63L640.14 1051.80L640.69 1051.96L641.25 1052.13L641.81 1052.30L642.03 1052.37L642.36 1052.48L642.92 1052.66L643.47 1052.84L644.03 1053.02L644.58 1053.19L645.14 1053.37L645.69 1053.54L646.25 1053.72L646.80 1053.89L647.36 1054.06L647.92 1054.23L648.47 1054.40L649.03 1054.57L649.58 1054.73L650.14 1054.90L650.69 1055.06L651.25 1055.22L651.80 1055.38L652.36 1055.54L652.91 1055.70L653.47 1055.85L654.03 1056.01L654.58 1056.16L655.14 1056.30L655.25 1056.33L655.69 1056.45L656.25 1056.59L656.80 1056.73L657.36 1056.87L657.91 1057.01L658.47 1057.14L659.02 1057.27L659.58 1057.40L660.14 1057.53L660.69 1057.66L660.97 1057.72L661.52 1070.99L662.36 1052.77L662.25 1051.98L663.36 1051.87L664.47 1051.77L665.58 1051.66L666.69 1051.56L667.80 1051.46L668.91 1051.36L670.02 1051.25L671.13 1051.16L672.24 1051.06L673.36 1050.96L674.47 1050.86L675.58 1050.77L676.69 1050.68L677.80 1050.59L678.91 1050.50L680.02 1050.41L681.13 1050.33L682.24 1050.24L682.91 1050.20L683.35 1050.16L684.46 1050.09L685.58 1050.01L686.69 1049.93L687.80 1049.85L688.91 1049.78L690.02 1049.71L691.13 1049.63L692.24 1049.56L693.35 1049.49L694.46 1049.42L695.57 1049.35L696.68 1049.28L697.80 1049.21L698.91 1049.14L700.02 1049.08L701.13 1049.01L702.24 1048.94L703.35 1048.88L704.46 1048.81L705.57 1048.75L706.68 1048.69L707.79 1048.62L708.90 1048.56L710.02 1048.50L711.13 1048.44L712.24 1048.38L713.35 1048.31L714.46 1048.25L715.57 1048.19L716.68 1048.13L717.79 1048.07L718.90 1048.01L720.01 1047.96L721.12 1047.90L722.24 1047.84L723.35 1047.78L724.46 1047.72L725.57 1047.66L726.35 1047.62L726.68 1047.60L727.79 1047.55L728.90 1047.49L730.01 1047.43L731.12 1047.38L732.23 1047.32L733.34 1047.27L734.46 1047.21L735.57 1047.16L736.68 1047.10L737.79 1047.05L738.90 1047.00L740.01 1046.94L741.12 1046.89L742.23 1046.84L743.34 1046.79L744.45 1046.74L745.56 1046.68L746.68 1046.63L747.79 1046.58L748.90 1046.53L750.01 1046.48L751.12 1046.44L752.23 1046.39L753.34 1046.34L754.45 1046.29L755.56 1046.24L756.67 1046.19L757.78 1046.14L758.90 1046.10L760.01 1046.05L761.12 1046.00L762.23 1045.95L763.34 1045.91L764.45 1045.86L765.56 1045.81L766.67 1045.77L767.78 1045.72L768.89 1045.67L770.00 1045.63L771.12 1045.58L772.23 1045.53L773.34 1045.49L774.45 1045.44L775.56 1045.39L776.67 1045.35L777.78 1045.30L778.89 1045.25L780.00 1045.21L781.11 1045.16L782.22 1045.11L783.34 1045.07L784.45 1045.02L785.56 1044.97L786.67 1044.93L787.78 1044.88L788.89 1044.83L790.00 1044.78L791.11 1044.74L792.22 1044.69L793.33 1044.64L794.44 1044.59L795.56 1044.54L796.67 1044.49L797.78 1044.45L798.89 1044.40L800.00 1044.35L801.11 1044.30L802.22 1044.25L803.33 1044.20L804.44 1044.15L805.55 1044.09L806.66 1044.04L807.78 1043.99L808.89 1043.94L810.00 1043.89L811.11 1043.83L812.22 1043.78L813.33 1043.73L814.44 1043.67L815.55 1043.62L816.66 1043.56L817.77 1043.51L818.88 1043.45L820.00 1043.39L821.11 1043.34L822.22 1043.28L823.33 1043.22L824.44 1043.16L825.55 1043.10L826.16 1043.07L826.66 1043.04L827.77 1042.98L828.88 1042.92L829.99 1042.86L831.10 1042.80L832.22 1042.74L833.33 1042.68L834.44 1042.62L835.55 1042.56L836.66 1042.50L837.77 1042.44L838.88 1042.38L839.99 1042.32L841.10 1042.26L842.21 1042.20L843.32 1042.14L844.44 1042.07L845.55 1042.01L846.66 1041.95L847.77 1041.88L848.88 1041.82L849.99 1041.75L851.10 1041.69L852.21 1041.62L853.32 1041.55L854.43 1041.48L855.54 1041.41L856.66 1041.34L857.77 1041.27L858.88 1041.20L859.99 1041.13L861.10 1041.05L862.21 1040.97L863.32 1040.90L864.43 1040.82L865.54 1040.74L866.65 1040.66L867.76 1040.57L868.88 1040.49L869.99 1040.40L871.10 1040.32L872.21 1040.23L873.32 1040.14L874.43 1040.05L875.54 1039.95L876.15 1039.90L876.65 1039.86L877.76 1039.76L878.87 1039.66L879.98 1039.56L881.10 1039.45L882.21 1039.35L883.32 1039.24L884.43 1039.13L885.54 1039.01L886.65 1038.90L887.76 1038.78L888.87 1038.65L889.98 1038.53L891.09 1038.40L892.20 1038.27L893.32 1038.13L894.43 1037.99L895.54 1037.85L896.65 1037.70L897.76 1037.55L898.87 1037.40L899.98 1037.24L901.09 1037.08L902.20 1036.92L903.31 1036.75L904.42 1036.57L905.54 1036.39L906.65 1036.21L907.76 1036.02L908.87 1035.83L909.37 1035.74L909.98 1035.63L911.09 1035.42L912.20 1035.19L913.31 1034.96L914.42 1034.71L915.53 1034.44L916.64 1034.17L917.76 1033.88L918.87 1033.58L919.98 1033.28L921.09 1032.96L922.20 1032.64L923.31 1032.30L924.42 1031.96L925.53 1031.61L926.64 1031.25L927.75 1030.89L928.86 1030.52L929.98 1030.14L931.09 1029.76L932.20 1029.38L933.31 1028.99L934.36 1028.61L934.42 1028.59L935.53 1028.19L936.64 1027.76L937.75 1027.32L938.86 1026.85L939.97 1026.37L941.08 1025.88L942.20 1025.38L943.31 1024.86L944.42 1024.33L945.53 1023.79L946.64 1023.25L947.75 1022.70L948.86 1022.15L949.97 1021.59L950.97 1021.09L951.08 1021.03L952.19 1020.47L953.30 1019.89L954.42 1019.30L955.53 1018.70L956.64 1018.09L957.75 1017.47L958.86 1016.84L959.97 1016.20L961.08 1015.55L962.19 1014.89L963.30 1014.23L963.41 1014.16L963.75 1010.20L1327.90 1010.20L1328.07 1037.92L1328.90 1037.52L1329.18 1041.17L1329.46 1044.71L1329.74 1048.05L1330.01 1051.13L1330.29 1053.85L1330.57 1056.14L1330.85 1058.14L1331.12 1060.04L1331.40 1061.85L1331.68 1063.56L1331.96 1065.16L1332.24 1066.65L1332.51 1068.02L1332.79 1069.28L1333.07 1070.40L1333.35 1071.40L1333.62 1072.26L1333.74 1072.57L1333.90 1073.01L1334.18 1073.70L1334.46 1074.35L1334.73 1074.96L1335.01 1075.53L1335.29 1076.07L1335.57 1076.59L1335.85 1077.07L1336.12 1077.53L1336.40 1077.96L1336.68 1078.37L1336.96 1078.77L1337.23 1079.15L1337.51 1079.51L1337.79 1079.86L1338.07 1080.21L1338.35 1080.55L1338.62 1080.89L1338.90 1081.22L1339.18 1081.55L1339.46 1081.88L1339.73 1082.20L1340.01 1082.52L1340.29 1082.84L1340.57 1083.15L1340.85 1083.46L1341.12 1083.76L1341.40 1084.06L1341.68 1084.35L1341.96 1084.64L1342.23 1084.92L1342.51 1085.20L1342.79 1085.47L1343.07 1085.73L1343.34 1085.99L1343.62 1086.24L1343.90 1086.48L1344.18 1086.72L1344.46 1086.94L1344.73 1087.17L1345.01 1087.38L1345.29 1087.58L1345.57 1087.78L1345.84 1087.97L1346.12 1088.15L1346.40 1088.32L1346.68 1088.48L1346.95 1088.63L1347.23 1088.77L1347.51 1088.91L1347.73 1089.00L1347.79 1089.03L1348.07 1089.15L1348.34 1089.26L1348.62 1089.37L1348.90 1089.49L1349.18 1089.60L1349.45 1089.70L1349.73 1089.81L1350.01 1089.91L1350.29 1090.02L1350.57 1090.12L1350.84 1090.22L1351.12 1090.31L1351.40 1090.41L1351.68 1090.50L1351.95 1090.59L1352.23 1090.68L1352.51 1090.77L1352.79 1090.86L1353.07 1090.95L1353.34 1091.03L1353.62 1091.11L1353.90 1091.19L1354.18 1091.27L1354.45 1091.35L1354.73 1091.43L1355.01 1091.50L1355.29 1091.58L1355.56 1091.65L1355.84 1091.72L1356.12 1091.79L1356.40 1091.86L1356.68 1091.93L1356.95 1091.99L1357.23 1092.06L1357.51 1092.12L1357.79 1092.18L1358.06 1092.24L1358.34 1092.30L1358.62 1092.36L1358.90 1092.42L1359.17 1092.48L1359.45 1092.53L1359.73 1092.59L1360.01 1092.64L1360.29 1092.69L1360.56 1092.74L1360.84 1092.79L1361.12 1092.84L1361.40 1092.89L1361.67 1092.94L1361.95 1092.99L1362.23 1093.03L1362.51 1093.08L1362.79 1093.12L1363.06 1093.17L1363.34 1093.21L1363.62 1093.25L1363.90 1093.29L1364.17 1093.34L1364.34 1093.36L1364.45 1093.38L1364.73 1093.42L1365.01 1093.46L1365.29 1093.49L1365.56 1093.53L1365.84 1093.57L1366.12 1093.61L1366.40 1093.64L1366.67 1093.68L1366.95 1093.72L1367.23 1093.75L1367.51 1093.79L1367.78 1093.82L1368.06 1093.85L1368.34 1093.89L1368.62 1093.92L1368.90 1093.95L1369.17 1093.99L1369.45 1094.02L1369.73 1094.05L1370.01 1094.08L1370.28 1094.11L1370.56 1094.14L1370.84 1094.17L1371.12 1094.20L1371.39 1094.23L1371.67 1094.26L1371.95 1094.29L1372.23 1094.32L1372.51 1094.35L1372.78 1094.37L1373.06 1094.40L1373.34 1094.43L1373.62 1094.45L1373.89 1094.48L1374.17 1094.51L1374.45 1094.53L1374.73 1094.56L1375.01 1094.59L1375.28 1094.61L1375.56 1094.64L1375.84 1094.66L1376.12 1094.69L1376.39 1094.71L1376.67 1094.73L1376.95 1094.76L1377.23 1094.78L1377.51 1094.81L1377.78 1094.83L1378.06 1094.85L1378.34 1094.88L1378.62 1094.90L1378.89 1094.92L1379.17 1094.94L1379.45 1094.97L1379.73 1094.99L1380.00 1095.01L1380.28 1095.03L1380.56 1095.06L1380.84 1095.08L1381.12 1095.10L1381.39 1095.12L1381.67 1095.14L1381.95 1095.17L1382.23 1095.19L1382.50 1095.21L1382.78 1095.23L1383.06 1095.25L1383.34 1095.28L1383.62 1095.30L1383.89 1095.32L1384.17 1095.34L1384.45 1095.36L1384.73 1095.38L1385.00 1095.41L1385.28 1095.43L1385.56 1095.45L1385.84 1095.47L1386.11 1095.49L1386.39 1095.52L1386.67 1095.54L1386.95 1095.56L1387.23 1095.58L1387.50 1095.60L1387.78 1095.63L1388.06 1095.65L1388.34 1095.67L1388.61 1095.69L1388.89 1095.72L1389.11 1095.74L1389.17 1095.74L1389.45 1095.76L1389.72 1095.79L1390.00 1095.81L1390.28 1095.83L1390.56 1095.86L1390.84 1095.88L1391.11 1095.90L1391.39 1095.92L1391.67 1095.95L1391.95 1095.97L1392.22 1095.99L1392.50 1096.01L1392.78 1096.03L1393.06 1096.06L1393.34 1096.08L1393.61 1096.10L1393.89 1096.12L1394.17 1096.14L1394.45 1096.17L1394.72 1096.19L1395.00 1096.21L1395.28 1096.23L1395.56 1096.25L1395.84 1096.27L1396.11 1096.29L1396.39 1096.32L1396.67 1096.34L1396.95 1096.36L1397.22 1096.38L1397.50 1096.40L1397.78 1096.42L1398.06 1096.44L1398.33 1096.46L1398.61 1096.48L1398.89 1096.50L1399.17 1096.53L1399.45 1096.55L1399.72 1096.57L1400.00 1096.59L1400.28 1096.61L1400.56 1096.63L1400.83 1096.65L1401.11 1096.67L1401.39 1096.69L1401.67 1096.71L1401.94 1096.73L1402.22 1096.75L1402.50 1096.77L1402.78 1096.79L1403.06 1096.81L1403.33 1096.83L1403.61 1096.85L1403.89 1096.87L1404.17 1096.89L1404.44 1096.91L1404.72 1096.93L1405.00 1096.95L1405.28 1096.97L1405.56 1096.99L1405.83 1097.01L1406.11 1097.03L1406.39 1097.05L1406.67 1097.07L1406.94 1097.09L1407.22 1097.11L1407.50 1097.13L1407.78 1097.14L1408.06 1097.16L1408.33 1097.18L1408.61 1097.20L1408.89 1097.22L1409.17 1097.24L1409.44 1097.26L1409.72 1097.28L1410.00 1097.30L1410.28 1097.32L1410.55 1097.34L1410.83 1097.36L1411.11 1097.38L1411.39 1097.40L1411.67 1097.42L1411.94 1097.43L1412.22 1097.45L1412.50 1097.47L1412.78 1097.49L1413.05 1097.51L1413.33 1097.53L1413.61 1097.55L1413.89 1097.57L1414.16 1097.59L1414.44 1097.61L1414.72 1097.63L1415.00 1097.65L1415.28 1097.66L1415.55 1097.68L1415.83 1097.70L1416.11 1097.72L1416.39 1097.74L1416.66 1097.76L1416.94 1097.78L1417.22 1097.80L1417.50 1097.82L1417.78 1097.84L1418.05 1097.86L1418.33 1097.88L1418.61 1097.89L1418.89 1097.91L1419.16 1097.93L1419.44 1097.95L1419.72 1097.97L1420.00 1097.99L1420.28 1098.01L1420.55 1098.03L1420.83 1098.05L1421.11 1098.07L1421.39 1098.09L1421.66 1098.10L1421.94 1098.12L1422.22 1098.14L1422.50 1098.16L1422.77 1098.18L1423.05 1098.20L1423.33 1098.22L1423.61 1098.24L1423.89 1098.25L1424.16 1098.27L1424.44 1098.29L1424.72 1098.31L1425.00 1098.33L1425.27 1098.35L1425.55 1098.36L1425.83 1098.38L1426.11 1098.40L1426.38 1098.42L1426.66 1098.44L1426.94 1098.46L1427.22 1098.47L1427.50 1098.49L1427.77 1098.51L1428.05 1098.53L1428.33 1098.55L1428.61 1098.56L1428.88 1098.58L1429.16 1098.60L1429.44 1098.62L1429.72 1098.64L1430.00 1098.65L1430.27 1098.67L1430.55 1098.69L1430.83 1098.71L1431.11 1098.72L1431.38 1098.74L1431.66 1098.76L1431.94 1098.78L1432.22 1098.80L1432.49 1098.81L1432.77 1098.83L1433.05 1098.85L1433.33 1098.87L1433.61 1098.88L1433.88 1098.90L1434.16 1098.92L1434.44 1098.94L1434.72 1098.95L1434.99 1098.97L1435.27 1098.99L1435.55 1099.01L1435.83 1099.02L1436.11 1099.04L1436.38 1099.06L1436.66 1099.08L1436.94 1099.09L1437.22 1099.11L1437.49 1099.13L1437.77 1099.14L1438.05 1099.16L1438.33 1099.18L1438.61 1099.20L1438.88 1099.21L1439.16 1099.23L1439.44 1099.25L1439.72 1099.26L1439.99 1099.28L1440.27 1099.30L1440.55 1099.32L1440.83 1099.33L1441.10 1099.35L1441.38 1099.37L1441.66 1099.38L1441.94 1099.40L1442.22 1099.42L1442.49 1099.44L1442.77 1099.45L1443.05 1099.47L1443.33 1099.49L1443.60 1099.50L1443.88 1099.52L1444.16 1099.54L1444.44 1099.56L1444.71 1099.57L1444.99 1099.59L1445.27 1099.61L1445.55 1099.62L1445.83 1099.64L1446.10 1099.66L1446.38 1099.67L1446.66 1099.69L1446.94 1099.71L1447.21 1099.72L1447.49 1099.74L1447.77 1099.76L1448.05 1099.78L1448.33 1099.79L1448.60 1099.81L1448.88 1099.83L1449.16 1099.84L1449.44 1099.86L1449.71 1099.88L1449.99 1099.89L1450.27 1099.91L1450.55 1099.93L1450.83 1099.95L1451.10 1099.96L1451.38 1099.98L1451.66 1100.00L1451.94 1100.01L1452.21 1100.03L1452.49 1100.05L1452.77 1100.06L1453.05 1100.08L1453.32 1100.10L1453.60 1100.12L1453.88 1100.13L1454.16 1100.15L1454.44 1100.17L1454.71 1100.18L1454.99 1100.20L1455.27 1100.22L1455.55 1100.24L1455.82 1100.25L1456.10 1100.27L1456.38 1100.29L1456.66 1100.30L1456.93 1100.32L1457.21 1100.34L1457.49 1100.36L1457.77 1100.37L1458.05 1100.39L1458.32 1100.41L1458.60 1100.42L1458.88 1100.44L1459.16 1100.46L1459.43 1100.48L1459.71 1100.49L1459.99 1100.51L1460.27 1100.53L1460.55 1100.55L1460.82 1100.56L1461.10 1100.58L1461.38 1100.60L1461.66 1100.62L1461.93 1100.63L1462.21 1100.65L1462.49 1100.67L1462.77 1100.69L1463.05 1100.70L1463.32 1100.72L1463.60 1100.74L1463.88 1100.76L1464.16 1100.77L1464.43 1100.79L1464.71 1100.81L1464.99 1100.83L1465.27 1100.84L1465.54 1100.86L1465.82 1100.88L1466.10 1100.90L1466.38 1100.91L1466.66 1100.93L1466.93 1100.95L1467.21 1100.97L1467.49 1100.99L1467.77 1101.00L1468.04 1101.02L1468.32 1101.04L1468.60 1101.06L1468.88 1101.08L1469.15 1101.09L1469.43 1101.11L1469.71 1101.13L1469.99 1101.15L1470.27 1101.17L1470.54 1101.19L1470.82 1101.20L1471.10 1101.22L1471.38 1101.24L1471.65 1101.26L1471.93 1101.28L1472.21 1101.30L1472.49 1101.31L1472.77 1101.33L1473.04 1101.35L1473.32 1101.37L1473.60 1101.39L1473.88 1101.41L1474.15 1101.43L1474.43 1101.45L1474.71 1101.46L1474.99 1101.48L1475.27 1101.50L1475.54 1101.52L1475.82 1101.54L1476.10 1101.56L1476.38 1101.58L1476.65 1101.60L1476.93 1101.62L1477.21 1101.64L1477.49 1101.65L1477.76 1101.67L1478.04 1101.69L1478.32 1101.71L1478.60 1101.73L1478.88 1101.75L1479.15 1101.77L1479.43 1101.79L1479.71 1101.81L1479.99 1101.83L1480.26 1101.85L1480.54 1101.87L1480.82 1101.89L1481.10 1101.91L1481.38 1101.93L1481.65 1101.95L1481.93 1101.97L1482.21 1101.99L1482.49 1102.01L1482.76 1102.03L1483.04 1102.05L1483.32 1102.07L1483.60 1102.09L1483.87 1102.11L1484.15 1102.13L1484.43 1102.15L1484.71 1102.17L1484.99 1102.19L1485.26 1102.21L1485.54 1102.23L1485.82 1102.25L1486.04 1102.27L1486.10 1102.27L1486.37 1102.29L1486.65 1102.32L1486.93 1102.34L1487.21 1102.36L1487.48 1102.38L1487.76 1102.40L1488.04 1102.42L1488.32 1102.44L1488.60 1102.46L1488.87 1102.48L1489.15 1102.50L1489.43 1102.53L1489.71 1102.55L1489.98 1102.57L1490.26 1102.59L1490.54 1102.61L1490.82 1102.63L1491.10 1102.65L1491.37 1102.68L1491.65 1102.70L1491.93 1102.72L1492.21 1102.74L1492.48 1102.76L1492.76 1102.78L1493.04 1102.80L1493.32 1102.83L1493.60 1102.85L1493.87 1102.87L1494.15 1102.89L1494.43 1102.91L1494.71 1102.93L1494.98 1102.96L1495.26 1102.98L1495.54 1103.00L1495.82 1103.02L1496.09 1103.04L1496.37 1103.07L1496.65 1103.09L1496.93 1103.11L1497.21 1103.13L1497.48 1103.15L1497.76 1103.18L1498.04 1103.20L1498.32 1103.22L1498.59 1103.24L1498.87 1103.27L1499.15 1103.29L1499.43 1103.31L1499.70 1103.33L1499.98 1103.36L1500.26 1103.38L1500.54 1103.40L1500.82 1103.42L1501.09 1103.45L1501.37 1103.47L1501.65 1103.49L1501.93 1103.51L1502.20 1103.54L1502.48 1103.56L1502.76 1103.58L1503.04 1103.60L1503.32 1103.63L1503.59 1103.65L1503.87 1103.67L1504.15 1103.70L1504.43 1103.72L1504.70 1103.74L1504.98 1103.76L1505.26 1103.79L1505.54 1103.81L1505.82 1103.83L1506.09 1103.86L1506.37 1103.88L1506.65 1103.90L1506.93 1103.93L1507.20 1103.95L1507.48 1103.97L1507.76 1104.00L1508.04 1104.02L1508.31 1104.04L1508.59 1104.07L1508.87 1104.09L1509.15 1104.11L1509.43 1104.14L1509.70 1104.16L1509.98 1104.18L1510.26 1104.21L1510.54 1104.23L1510.81 1104.25L1511.09 1104.28L1511.37 1104.30L1511.65 1104.32L1511.92 1104.35L1512.20 1104.37L1512.48 1104.40L1512.76 1104.42L1513.04 1104.44L1513.31 1104.47L1513.59 1104.49L1513.87 1104.51L1514.15 1104.54L1514.42 1104.56L1514.70 1104.59L1514.98 1104.61L1515.26 1104.63L1515.54 1104.66L1515.81 1104.68L1516.09 1104.71L1516.37 1104.73L1516.65 1104.75L1516.92 1104.78L1517.20 1104.80L1517.48 1104.83L1517.76 1104.85L1518.04 1104.88L1518.31 1104.90L1518.59 1104.92L1518.87 1104.95L1519.15 1104.97L1519.42 1105.00L1519.70 1105.02L1519.98 1105.05L1520.26 1105.07L1520.53 1105.09L1520.81 1105.12L1521.09 1105.14L1521.37 1105.17L1521.65 1105.19L1521.92 1105.22L1522.20 1105.24L1522.48 1105.27L1522.76 1105.29L1523.03 1105.32L1523.31 1105.34L1523.59 1105.37L1523.87 1105.39L1524.14 1105.42L1524.42 1105.44L1524.70 1105.47L1524.98 1105.49L1525.26 1105.52L1525.53 1105.54L1525.81 1105.57L1526.09 1105.59L1526.37 1105.62L1526.64 1105.64L1526.92 1105.67L1527.20 1105.69L1527.48 1105.72L1527.76 1105.74L1528.03 1105.77L1528.31 1105.79L1528.59 1105.82L1528.87 1105.84L1529.14 1105.87L1529.42 1105.89L1529.70 1105.92L1529.98 1105.94L1530.26 1105.97L1530.53 1105.99L1530.81 1106.02L1531.09 1106.04L1531.37 1106.07L1531.64 1106.09L1531.92 1106.12L1532.20 1106.15L1532.48 1106.17L1532.75 1106.20L1533.03 1106.22L1533.31 1106.25L1533.59 1106.27L1533.87 1106.30L1534.14 1106.32L1534.42 1106.35L1534.70 1106.38L1534.98 1106.40L1535.25 1106.43L1535.53 1106.45L1535.81 1106.48L1536.09 1106.50L1536.37 1106.53L1536.64 1106.56L1536.92 1106.58L1537.20 1106.61L1537.48 1106.63L1537.75 1106.66L1538.03 1106.69L1538.31 1106.71L1538.59 1106.74L1538.86 1106.76L1539.14 1106.79L1539.42 1106.81L1539.70 1106.84L1539.98 1106.87L1540.25 1106.89L1540.53 1106.92L1540.81 1106.95L1541.09 1106.97L1541.36 1107.00L1541.64 1107.02L1541.92 1107.05L1542.20 1107.08L1542.47 1107.10L1542.75 1107.13L1543.03 1107.15L1543.31 1107.18L1543.59 1107.21L1543.86 1107.23L1544.14 1107.26L1544.42 1107.29L1544.70 1107.31L1544.97 1107.34L1545.25 1107.37L1545.53 1107.39L1545.81 1107.42L1546.09 1107.44L1546.36 1107.47L1546.64 1107.50L1546.92 1107.52L1547.20 1107.55L1547.47 1107.58L1547.75 1107.60L1548.03 1107.63L1548.31 1107.66L1548.59 1107.68L1548.86 1107.71L1549.14 1107.74L1549.42 1107.76L1549.70 1107.79L1549.97 1107.82L1550.25 1107.84L1550.53 1107.87L1550.81 1107.90L1551.08 1107.92L1551.36 1107.95L1551.64 1107.98L1551.92 1108.00L1552.20 1108.03L1552.47 1108.06L1552.75 1108.08L1553.03 1108.11L1553.31 1108.14L1553.58 1108.17L1553.86 1108.19L1554.14 1108.22L1554.42 1108.25L1554.69 1108.27L1554.97 1108.30L1555.25 1108.33L1555.53 1108.35L1555.81 1108.38L1556.08 1108.41L1556.36 1108.44L1556.64 1108.46L1556.92 1108.49L1557.19 1108.52L1557.47 1108.54L1557.75 1108.57L1558.03 1108.60L1558.31 1108.62L1558.58 1108.65L1558.86 1108.68L1559.14 1108.71L1559.42 1108.73L1559.69 1108.76L1559.97 1108.79L1560.25 1108.82L1560.53 1108.84L1560.81 1108.87L1561.08 1108.90L1561.36 1108.92L1561.64 1108.95L1561.92 1108.98L1562.19 1109.01L1562.47 1109.03L1562.75 1109.06L1563.03 1109.09L1563.30 1109.12L1563.58 1109.14L1563.86 1109.17L1564.14 1109.20L1564.42 1109.23L1564.69 1109.25L1564.97 1109.28L1565.25 1109.31L1565.53 1109.33L1565.80 1109.36L1566.08 1109.39L1566.36 1109.42L1566.64 1109.44L1566.91 1109.47L1567.19 1109.50L1567.47 1109.53L1567.75 1109.56L1568.03 1109.58L1568.30 1109.61L1568.58 1109.64L1568.86 1109.67L1569.14 1109.69L1569.41 1109.72L1569.69 1109.75L1569.97 1109.78L1570.25 1109.80L1570.53 1109.83L1570.80 1109.86L1571.08 1109.89L1571.36 1109.91L1571.64 1109.94L1571.91 1109.97L1572.14 1109.99L1572.19 1110.00L1572.47 1110.03L1572.75 1110.05L1573.03 1110.08L1573.30 1110.11L1573.58 1110.14L1573.86 1110.16L1574.14 1110.19L1574.41 1110.22L1574.69 1110.25L1574.97 1110.27L1575.25 1110.30L1575.52 1110.33L1575.80 1110.36L1576.08 1110.38L1576.36 1110.41L1576.64 1110.44L1576.91 1110.47L1577.19 1110.49L1577.47 1110.52L1577.75 1110.55L1578.02 1110.58L1578.30 1110.60L1578.58 1110.63L1578.86 1110.66L1579.13 1110.68L1579.41 1110.71L1579.69 1110.74L1579.97 1110.77L1580.25 1110.79L1580.52 1110.82L1580.80 1110.85L1581.08 1110.88L1581.36 1110.90L1581.63 1110.93L1581.91 1110.96L1582.19 1110.98L1582.47 1111.01L1582.75 1111.04L1583.02 1111.07L1583.30 1111.09L1583.58 1111.12L1583.86 1111.15L1584.13 1111.17L1584.41 1111.20L1584.69 1111.23L1584.97 1111.26L1585.24 1111.28L1585.52 1111.31L1585.80 1111.34L1586.08 1111.36L1586.36 1111.39L1586.63 1111.42L1586.91 1111.45L1587.19 1111.47L1587.47 1111.50L1587.74 1111.53L1588.02 1111.55L1588.30 1111.58L1588.58 1111.61L1588.86 1111.64L1589.13 1111.66L1589.41 1111.69L1589.69 1111.72L1589.97 1111.74L1590.24 1111.77L1590.52 1111.80L1590.80 1111.83L1591.08 1111.85L1591.36 1111.88L1591.63 1111.91L1591.91 1111.94L1592.19 1111.96L1592.47 1111.99L1592.74 1112.02L1593.02 1112.04L1593.30 1112.07L1593.58 1112.10L1593.85 1112.13L1594.13 1112.15L1594.41 1112.18L1594.69 1112.21L1594.97 1112.24L1595.24 1112.26L1595.52 1112.29L1595.80 1112.32L1596.08 1112.34L1596.35 1112.37L1596.63 1112.40L1596.91 1112.43L1597.19 1112.45L1597.46 1112.48L1597.74 1112.51L1598.02 1112.54L1598.30 1112.56L1598.58 1112.59L1598.85 1112.62L1599.13 1112.65L1599.41 1112.67L1599.69 1112.70L1599.96 1112.73L1600.24 1112.76L1600.52 1112.79L1600.80 1112.81L1601.08 1112.84L1601.35 1112.87L1601.63 1112.90L1601.91 1112.92L1602.19 1112.95L1602.46 1112.98L1602.74 1113.01L1603.02 1113.04L1603.30 1113.06L1603.58 1113.09L1603.85 1113.12L1604.13 1113.15L1604.41 1113.18L1604.69 1113.20L1604.96 1113.23L1605.24 1113.26L1605.52 1113.29L1605.80 1113.32L1606.07 1113.34L1606.35 1113.37L1606.63 1113.40L1606.91 1113.43L1607.19 1113.46L1607.46 1113.49L1607.74 1113.51L1608.02 1113.54L1608.30 1113.57L1608.57 1113.60L1608.85 1113.63L1609.13 1113.66L1609.41 1113.69L1609.68 1113.71L1609.96 1113.74L1610.24 1113.77L1610.52 1113.80L1610.80 1113.83L1611.07 1113.86L1611.35 1113.89L1611.63 1113.92L1611.91 1113.95L1612.18 1113.97L1612.46 1114.00L1612.74 1114.03L1613.02 1114.06L1613.30 1114.09L1613.57 1114.12L1613.85 1114.15L1614.13 1114.18L1614.41 1114.21L1614.68 1114.24L1614.96 1114.27L1615.24 1114.30L1615.52 1114.33L1615.80 1114.36L1616.07 1114.39L1616.35 1114.41L1616.63 1114.44L1616.91 1114.47L1617.18 1114.50L1617.46 1114.53L1617.74 1114.56L1618.02 1114.59L1618.29 1114.62L1618.57 1114.65L1618.85 1114.68L1619.13 1114.71L1619.41 1114.74L1619.68 1114.77L1619.96 1114.81L1620.24 1114.84L1620.52 1114.87L1620.79 1114.90L1621.07 1114.93L1621.35 1114.96L1621.63 1114.99L1621.90 1115.02L1622.18 1115.05L1622.46 1115.08L1622.74 1115.11L1623.02 1115.14L1623.29 1115.17L1623.57 1115.20L1623.85 1115.24L1624.13 1115.27L1624.40 1115.30L1624.68 1115.33L1624.96 1115.36L1625.24 1115.39L1625.52 1115.42L1625.79 1115.45L1626.07 1115.49L1626.35 1115.52L1626.63 1115.55L1626.90 1115.58L1627.18 1115.61L1627.46 1115.65L1627.74 1115.68L1628.02 1115.71L1628.29 1115.74L1628.57 1115.77L1628.85 1115.81L1629.13 1115.84L1629.40 1115.87L1629.68 1115.90L1629.96 1115.94L1630.24 1115.97L1630.51 1116.00L1630.79 1116.03L1631.07 1116.07L1631.35 1116.10L1631.63 1116.13L1631.90 1116.17L1632.18 1116.20L1632.46 1116.23L1632.74 1116.26L1633.01 1116.30L1633.29 1116.33L1633.57 1116.36L1633.85 1116.40L1634.12 1116.43L1634.40 1116.47L1634.68 1116.50L1634.96 1116.53L1635.24 1116.57L1635.51 1116.60L1635.79 1116.64L1636.07 1116.67L1636.35 1116.70L1636.62 1116.74L1636.90 1116.77L1637.18 1116.81L1637.46 1116.84L1637.74 1116.88L1638.01 1116.91L1638.29 1116.95L1638.57 1116.98L1638.85 1117.02L1639.12 1117.05L1639.40 1117.09L1639.68 1117.12L1639.96 1117.16L1640.23 1117.19L1640.51 1117.23L1640.79 1117.26L1641.07 1117.30L1641.35 1117.33L1641.62 1117.37L1641.90 1117.41L1642.18 1117.44L1642.46 1117.48L1642.73 1117.51L1643.01 1117.55L1643.29 1117.59L1643.57 1117.62L1643.85 1117.66L1644.12 1117.70L1644.40 1117.73L1644.68 1117.77L1644.96 1117.81L1645.23 1117.84L1645.51 1117.88L1645.79 1117.92L1646.07 1117.95L1646.35 1117.99L1646.62 1118.03L1646.90 1118.07L1647.18 1118.10L1647.46 1118.14L1647.73 1118.18L1648.01 1118.22L1648.29 1118.26L1648.57 1118.29L1648.84 1118.33L1649.12 1118.37L1649.40 1118.41L1649.68 1118.45L1649.96 1118.49L1650.23 1118.52L1650.51 1118.56L1650.79 1118.60L1651.07 1118.64L1651.34 1118.68L1651.62 1118.72L1651.90 1118.76L1652.18 1118.80L1652.45 1118.84L1652.73 1118.88L1653.01 1118.92L1653.29 1118.96L1653.57 1119.00L1653.84 1119.04L1654.12 1119.08L1654.40 1119.12L1654.68 1119.16L1654.95 1119.20L1655.23 1119.24L1655.51 1119.28L1655.79 1119.32L1656.07 1119.36L1656.34 1119.40L1656.62 1119.44L1656.90 1119.49L1657.18 1119.53L1657.45 1119.57L1657.73 1119.61L1658.01 1119.65L1658.29 1119.69L1658.57 1119.74L1658.84 1119.78L1659.12 1119.82L1659.40 1119.86L1659.68 1119.91L1659.95 1119.95L1660.23 1119.99L1660.51 1120.04L1660.79 1120.08L1661.06 1120.13L1661.34 1120.17L1661.62 1120.22L1661.90 1120.26L1662.18 1120.31L1662.45 1120.36L1662.73 1120.40L1663.01 1120.45L1663.29 1120.50L1663.56 1120.54L1663.84 1120.59L1664.12 1120.64L1664.40 1120.69L1664.67 1120.74L1664.95 1120.78L1665.23 1120.83L1665.51 1120.88L1665.79 1120.93L1666.06 1120.98L1666.34 1121.03L1666.62 1121.08L1666.90 1121.13L1667.17 1121.18L1667.45 1121.23L1667.73 1121.28L1668.01 1121.34L1668.29 1121.39L1668.56 1121.44L1668.84 1121.49L1669.12 1121.54L1669.40 1121.60L1669.67 1121.65L1669.95 1121.70L1670.23 1121.76L1670.51 1121.81L1670.79 1121.86L1671.06 1121.92L1671.34 1121.97L1671.62 1122.03L1671.90 1122.08L1672.17 1122.13L1672.45 1122.19L1672.73 1122.24L1673.01 1122.30L1673.28 1122.36L1673.56 1122.41L1673.84 1122.47L1674.12 1122.52L1674.40 1122.58L1674.67 1122.64L1674.95 1122.69L1675.23 1122.75L1675.51 1122.81L1675.78 1122.86L1676.06 1122.92L1676.34 1122.98L1676.62 1123.04L1676.89 1123.09L1677.17 1123.15L1677.45 1123.21L1677.73 1123.27L1678.01 1123.33L1678.28 1123.39L1678.56 1123.45L1678.84 1123.50L1679.12 1123.56L1679.39 1123.62L1679.67 1123.68L1679.95 1123.74L1680.23 1123.80L1680.51 1123.86L1680.78 1123.92L1681.06 1123.98L1681.34 1124.04L1681.62 1124.10L1681.89 1124.16L1682.17 1124.23L1682.45 1124.29L1682.73 1124.35L1683.01 1124.41L1683.28 1124.47L1683.56 1124.53L1683.84 1124.59L1684.12 1124.65L1684.39 1124.72L1684.67 1124.78L1684.95 1124.84L1685.23 1124.90L1685.50 1124.96L1685.78 1125.03L1686.06 1125.09L1686.34 1125.15L1686.62 1125.21L1686.89 1125.28L1687.17 1125.34L1687.45 1125.40L1687.73 1125.47L1688.00 1125.53L1688.28 1125.59L1688.56 1125.66L1688.84 1125.72L1689.12 1125.78L1689.39 1125.85L1689.67 1125.91L1689.95 1125.97L1690.23 1126.04L1690.50 1126.10L1690.78 1126.16L1691.06 1126.23L1691.34 1126.29L1691.61 1126.36L1691.89 1126.42L1692.17 1126.48L1692.45 1126.55L1692.73 1126.61L1693.00 1126.68L1693.28 1126.74L1693.56 1126.81L1693.84 1126.87L1694.11 1126.93L1694.39 1127.00L1694.67 1127.06L1694.95 1127.13L1695.22 1127.19L1695.50 1127.26L1695.78 1127.32L1696.06 1127.39L1696.34 1127.45L1696.61 1127.52L1696.89 1127.58L1697.17 1127.65L1697.45 1127.71L1697.72 1127.78L1698.00 1127.84L1698.28 1127.91L1698.56 1127.97L1698.84 1128.03L1699.11 1128.10L1699.39 1128.16L1699.67 1128.23L1699.95 1128.29L1700.00 1128.31L1700.22 1128.36L1700.50 1128.42L1700.78 1128.49L1701.06 1128.56L1701.34 1128.62L1701.61 1128.69L1701.89 1128.76L1702.17 1128.82L1702.45 1128.89L1702.72 1128.96L1703.00 1129.03L1703.28 1129.09L1703.56 1129.16L1703.83 1129.23L1704.11 1129.30L1704.39 1129.37L1704.67 1129.44L1704.95 1129.51L1705.22 1129.58L1705.50 1129.65L1705.78 1129.72L1706.06 1129.79L1706.33 1129.87L1706.61 1129.94L1706.89 1130.01L1707.17 1130.08L1707.44 1130.15L1707.72 1130.23L1708.00 1130.30L1708.28 1130.37L1708.56 1130.44L1708.83 1130.52L1709.11 1130.59L1709.39 1130.66L1709.67 1130.74L1709.94 1130.81L1710.22 1130.89L1710.50 1130.96L1710.78 1131.04L1711.06 1131.11L1711.33 1131.18L1711.61 1131.26L1711.89 1131.33L1712.17 1131.41L1712.44 1131.49L1712.72 1131.56L1713.00 1131.64L1713.28 1131.71L1713.56 1131.79L1713.83 1131.86L1714.11 1131.94L1714.22 1131.97L1714.39 1132.02L1714.67 1132.09L1714.94 1132.17L1715.22 1132.24L1715.50 1132.32L1715.78 1132.40L1716.05 1132.47L1716.33 1132.55L1716.61 1132.62L1716.89 1132.70L1717.17 1132.78L1717.44 1132.85L1717.72 1132.93L1718.00 1133.01L1718.28 1133.08L1718.55 1133.16L1718.83 1133.24L1719.11 1133.31L1719.39 1133.39L1719.66 1133.47L1719.94 1133.55L1720.22 1133.63L1720.50 1133.70L1720.78 1133.78L1721.05 1133.86L1721.33 1133.94L1721.61 1134.02L1721.89 1134.10L1722.16 1134.18L1722.44 1134.26L1722.72 1134.34L1723.00 1134.42L1723.28 1134.51L1723.55 1134.59L1723.83 1134.67L1724.11 1134.76L1724.39 1134.84L1724.66 1134.92L1724.94 1135.01L1725.22 1135.09L1725.50 1135.18L1725.78 1135.27L1726.05 1135.35L1726.33 1135.44L1726.61 1135.53L1726.89 1135.62L1727.16 1135.71L1727.44 1135.80L1727.72 1135.89L1728.00 1135.98L1728.27 1136.07L1728.44 1136.13L1728.55 1136.17L1728.83 1136.26L1729.11 1136.35L1729.39 1136.45L1729.66 1136.54L1729.94 1136.64L1730.22 1136.74L1730.50 1136.84L1730.77 1136.93L1731.05 1137.03L1731.33 1137.13L1731.61 1137.23L1731.88 1137.34L1732.16 1137.44L1732.44 1137.54L1732.72 1137.64L1733.00 1137.75L1733.27 1137.85L1733.55 1137.96L1733.83 1138.06L1734.11 1138.17L1734.38 1138.28L1734.66 1138.38L1734.94 1138.49L1735.22 1138.60L1735.50 1138.71L1735.77 1138.82L1736.05 1138.93L1736.33 1139.04L1736.61 1139.15L1736.88 1139.26L1737.16 1139.38L1737.44 1139.49L1737.72 1139.60L1737.99 1139.72L1738.27 1139.83L1738.55 1139.95L1738.83 1140.06L1739.11 1140.18L1739.38 1140.29L1739.66 1140.41L1739.94 1140.53L1740.22 1140.65L1740.49 1140.76L1740.77 1140.88L1741.05 1141.00L1741.33 1141.12L1741.61 1141.24L1741.88 1141.36L1742.16 1141.48L1742.44 1141.60L1742.61 1141.67L1742.72 1141.72L1742.99 1141.84L1743.27 1141.96L1743.55 1142.09L1743.83 1142.21L1744.11 1142.33L1744.38 1142.46L1744.66 1142.58L1744.94 1142.70L1745.22 1142.83L1745.49 1142.96L1745.77 1143.08L1746.05 1143.21L1746.33 1143.34L1746.60 1143.46L1746.88 1143.59L1747.16 1143.72L1747.44 1143.85L1747.72 1143.98L1747.99 1144.11L1748.27 1144.24L1748.55 1144.38L1748.83 1144.51L1749.10 1144.64L1749.38 1144.78L1749.66 1144.91L1749.94 1145.05L1750.21 1145.18L1750.49 1145.32L1750.77 1145.46L1751.05 1145.60L1751.33 1145.73L1751.60 1145.87L1751.88 1146.02L1752.16 1146.16L1752.44 1146.30L1752.71 1146.44L1752.99 1146.59L1753.27 1146.73L1753.55 1146.88L1753.83 1147.02L1754.10 1147.17L1754.38 1147.32L1754.66 1147.47L1754.94 1147.62L1755.21 1147.77L1755.49 1147.92L1755.77 1148.07L1756.05 1148.23L1756.33 1148.38L1756.60 1148.54L1756.71 1148.60L1756.88 1148.70L1757.16 1148.86L1757.44 1149.02L1757.71 1149.18L1757.99 1149.35L1758.27 1149.51L1758.55 1149.68L1758.82 1149.85L1759.10 1150.02L1759.38 1150.20L1759.66 1150.37L1759.94 1150.55L1760.21 1150.73L1760.49 1150.91L1760.77 1151.09L1761.05 1151.27L1761.32 1151.46L1761.60 1151.64L1761.88 1151.83L1762.16 1152.02L1762.43 1152.20L1762.71 1152.39L1762.99 1152.58L1763.27 1152.77L1763.55 1152.96L1763.82 1153.16L1764.10 1153.35L1764.38 1153.54L1764.66 1153.73L1764.93 1153.92L1765.21 1154.11L1765.49 1154.30L1765.77 1154.49L1766.05 1154.68L1766.32 1154.88L1766.60 1155.07L1766.88 1155.27L1767.16 1155.47L1767.43 1155.67L1767.71 1155.87L1767.99 1156.08L1768.27 1156.28L1768.55 1156.50L1768.82 1156.71L1769.10 1156.93L1769.38 1157.16L1769.66 1157.39L1769.93 1157.62L1770.21 1157.86L1770.49 1158.10L1770.77 1158.35L1770.93 1158.50L1771.04 1158.60L1771.32 1158.86L1771.60 1159.13L1771.88 1159.39L1772.16 1159.66L1772.43 1159.94L1772.71 1160.22L1772.99 1160.50L1773.27 1160.79L1773.54 1161.08L1773.82 1161.37L1774.10 1161.67L1774.38 1161.98L1774.65 1162.28L1774.93 1162.60L1775.21 1162.91L1775.49 1163.23L1775.77 1163.56L1776.04 1163.89L1776.32 1164.22L1776.60 1164.56L1776.88 1164.90L1777.15 1165.25L1777.43 1165.60L1777.71 1165.95L1777.99 1166.32L1778.27 1166.68L1778.54 1167.05L1778.82 1167.43L1779.10 1167.80L1779.38 1168.19L1779.65 1168.58L1779.93 1168.97L1780.21 1169.37L1780.49 1169.77L1780.77 1170.18L1781.04 1170.59L1781.32 1171.01L1781.60 1171.43L1781.88 1171.86L1782.15 1172.29L1782.43 1172.73L1782.71 1173.17L1782.82 1173.35L1782.99 1173.63L1783.26 1174.11L1783.54 1174.62L1783.82 1175.16L1784.10 1175.71L1784.38 1176.28L1784.65 1176.87L1784.93 1177.46L1785.21 1178.06L1785.49 1178.66L1785.76 1179.26L1786.04 1179.84L1786.32 1180.42L1786.54 1180.88L1786.60 1180.99L1786.88 1181.54L1787.15 1182.08L1787.43 1182.62L1787.71 1183.16L1787.99 1183.69L1788.26 1184.23L1788.54 1184.77L1788.82 1185.32L1789.10 1185.88L1789.37 1186.45L1789.65 1187.03L1789.93 1187.63L1790.10 1188.00L1790.21 1188.26L1790.49 1188.90L1790.76 1189.56L1791.04 1190.25L1791.32 1190.95L1791.60 1191.66L1791.87 1192.38L1792.15 1193.10L1792.43 1193.83L1792.71 1194.55L1792.93 1195.13L1792.98 1195.28L1793.26 1196.00L1793.54 1196.72L1793.82 1197.44L1794.10 1198.17L1794.37 1198.90L1794.65 1199.65L1794.93 1200.40L1795.21 1201.16L1795.48 1201.94L1795.60 1202.26L1795.76 1202.74L1796.04 1203.54L1796.32 1204.36L1796.60 1205.19L1796.87 1206.03L1797.15 1206.89L1797.43 1207.77L1797.71 1208.66L1797.93 1209.39L1797.98 1209.57L1798.26 1210.49L1798.54 1211.42L1798.82 1212.37L1799.10 1213.35L1799.37 1214.36L1799.65 1215.43L1799.87 1216.32L1799.93 1216.55L1800.21 1217.73L1800.48 1218.99L1800.76 1220.31L1801.04 1221.70L1801.32 1223.15L1801.37 1223.45L1801.59 1224.67L1801.87 1226.28L1802.15 1227.98L1802.43 1229.74L1802.71 1231.55L1802.98 1233.40L1803.15 1234.53L1803.26 1235.29L1803.54 1237.18L1803.82 1239.09L1804.09 1241.04L1804.37 1243.06L1804.65 1245.16L1804.93 1247.36L1805.20 1249.68L1805.48 1252.16L1805.76 1254.82L1806.04 1257.69L1806.32 1260.78L1806.59 1264.08L1806.87 1267.58L1807.04 1269.78L1807.15 1271.31L1807.43 1275.43L1807.70 1279.91L1807.98 1284.66L1808.15 1287.60L1808.26 1289.60L1808.54 1294.86L1808.82 1300.47L1809.04 1305.22L1809.09 1306.45L1809.37 1312.92L1809.65 1319.86L1809.82 1324.23L1809.93 1327.00L1997.11 1327.00" stroke="#0072BD"/>
<path d="M183.27 1191.17L183.83 1181.35L184.12 1177.11L184.38 1174.00L184.94 1168.40L185.49 1163.28L185.54 1162.86L186.05 1157.90L186.60 1152.57L187.16 1147.66L187.53 1144.84L187.72 1143.52L188.27 1139.97L188.83 1136.77L189.38 1133.77L189.94 1130.82L190.13 1129.79L190.49 1127.77L191.05 1124.69L191.60 1121.71L192.16 1118.98L192.49 1117.52L192.71 1116.60L193.27 1114.43L193.83 1112.41L194.38 1110.52L194.94 1108.76L195.49 1107.11L195.80 1106.23L196.05 1105.56L196.60 1104.07L197.16 1102.65L197.71 1101.28L198.27 1099.96L198.82 1098.69L199.38 1097.46L199.94 1096.26L200.49 1095.09L201.05 1093.95L201.60 1092.83L202.16 1091.73L202.71 1090.64L202.84 1090.39L203.27 1089.56L203.82 1088.50L204.38 1087.45L204.93 1086.43L205.49 1085.42L206.05 1084.44L206.60 1083.47L207.16 1082.53L207.71 1081.60L208.27 1080.70L208.82 1079.81L209.38 1078.95L209.93 1078.11L210.20 1077.72L210.49 1077.29L211.04 1076.47L211.60 1075.65L212.16 1074.83L212.71 1074.01L213.27 1073.21L213.82 1072.42L214.38 1071.65L214.93 1070.89L215.49 1070.17L216.04 1069.46L216.60 1068.79L217.15 1068.16L217.71 1067.56L218.27 1067.01L218.82 1066.50L219.38 1066.04L219.38 1066.04L219.93 1065.62L220.49 1065.22L221.04 1064.83L221.60 1064.47L222.15 1064.13L222.71 1063.80L223.26 1063.48L223.82 1063.18L224.38 1062.90L224.93 1062.62L225.49 1062.35L226.04 1062.10L226.60 1061.85L226.99 1061.68L227.15 1061.61L227.71 1061.38L228.26 1061.15L228.82 1060.92L229.37 1060.71L229.93 1060.49L230.49 1060.28L231.04 1060.08L231.60 1059.88L232.15 1059.69L232.71 1059.50L233.26 1059.31L233.82 1059.13L234.37 1058.95L234.93 1058.77L235.48 1058.60L236.04 1058.43L236.60 1058.26L237.15 1058.10L237.71 1057.94L238.26 1057.78L238.82 1057.63L239.37 1057.47L239.93 1057.32L240.48 1057.17L241.04 1057.02L241.38 1056.93L241.59 1056.87L242.15 1056.72L242.71 1056.58L243.26 1056.44L243.82 1056.30L244.37 1056.16L244.93 1056.02L245.48 1055.89L246.04 1055.76L246.59 1055.63L247.15 1055.50L247.70 1055.37L248.26 1055.24L248.82 1055.12L249.37 1054.99L249.93 1054.87L250.48 1054.75L251.04 1054.63L251.59 1054.51L252.15 1054.39L252.70 1054.28L253.26 1054.16L253.81 1054.05L254.37 1053.93L254.93 1053.82L255.48 1053.71L256.04 1053.60L256.59 1053.48L257.15 1053.37L257.70 1053.27L258.26 1053.16L258.81 1053.05L259.37 1052.94L259.92 1052.83L260.48 1052.72L261.04 1052.62L261.26 1052.57L261.59 1052.51L262.15 1052.40L262.70 1052.29L263.26 1052.19L263.81 1052.08L264.37 1051.97L264.92 1051.87L265.48 1051.76L266.03 1051.66L266.59 1051.55L267.15 1051.45L267.70 1051.34L268.26 1051.24L268.81 1051.13L269.37 1051.03L269.92 1050.93L270.48 1050.82L271.03 1050.72L271.59 1050.62L272.14 1050.52L272.70 1050.42L273.26 1050.32L273.81 1050.22L274.37 1050.12L274.92 1050.02L275.48 1049.92L276.03 1049.83L276.59 1049.73L277.14 1049.64L277.70 1049.54L278.25 1049.45L278.81 1049.35L279.37 1049.26L279.92 1049.17L280.48 1049.08L281.03 1048.99L281.59 1048.90L282.14 1048.81L282.70 1048.72L283.25 1048.63L283.81 1048.55L284.36 1048.46L284.92 1048.38L285.48 1048.30L286.03 1048.22L286.59 1048.14L287.14 1048.06L287.70 1047.98L288.25 1047.90L288.81 1047.82L289.36 1047.75L289.92 1047.67L290.31 1047.62L290.47 1047.60L291.03 1047.53L291.59 1047.46L292.14 1047.39L292.70 1047.32L293.25 1047.26L293.81 1047.19L294.36 1047.13L294.92 1047.07L295.47 1047.00L296.03 1046.94L296.58 1046.88L297.14 1046.82L297.70 1046.76L298.25 1046.71L298.81 1046.65L299.36 1046.59L299.92 1046.53L300.47 1046.48L301.03 1046.42L301.58 1046.37L302.14 1046.31L302.69 1046.25L303.25 1046.20L303.81 1046.14L304.36 1046.09L304.92 1046.03L305.47 1045.97L306.03 1045.92L306.58 1045.86L307.14 1045.80L307.69 1045.74L308.25 1045.68L308.80 1045.62L309.36 1045.56L309.92 1045.50L310.42 1045.44L310.47 1045.44L311.03 1045.37L311.58 1045.31L312.14 1045.25L312.69 1045.18L313.25 1045.11L313.80 1045.04L314.36 1044.98L314.91 1044.91L315.47 1044.84L316.03 1044.77L316.58 1044.70L317.14 1044.63L317.69 1044.56L318.25 1044.49L318.80 1044.42L319.36 1044.35L319.91 1044.28L320.47 1044.21L321.02 1044.14L321.58 1044.07L322.14 1044.00L322.69 1043.93L323.25 1043.86L323.80 1043.80L324.36 1043.73L324.91 1043.66L325.47 1043.60L326.02 1043.54L326.58 1043.47L327.13 1043.41L327.69 1043.35L328.25 1043.29L328.80 1043.24L329.36 1043.18L329.91 1043.13L330.47 1043.07L330.53 1043.07L331.02 1043.02L331.58 1042.97L332.13 1042.92L332.69 1042.87L333.24 1042.82L333.80 1042.77L334.36 1042.72L334.91 1042.67L335.47 1042.62L336.02 1042.58L336.58 1042.53L337.13 1042.48L337.69 1042.43L338.24 1042.39L338.80 1042.34L339.35 1042.29L339.91 1042.25L340.47 1042.20L341.02 1042.16L341.58 1042.11L342.13 1042.07L342.69 1042.03L343.24 1041.98L343.80 1041.94L344.35 1041.90L344.91 1041.85L345.46 1041.81L346.02 1041.77L346.58 1041.73L347.13 1041.68L347.69 1041.64L348.24 1041.60L348.80 1041.56L349.35 1041.52L349.91 1041.48L350.46 1041.44L351.02 1041.40L351.57 1041.36L352.13 1041.32L352.69 1041.28L353.24 1041.24L353.80 1041.20L354.35 1041.17L354.91 1041.13L355.46 1041.09L356.02 1041.05L356.57 1041.01L357.13 1040.98L357.68 1040.94L358.24 1040.90L358.80 1040.86L359.35 1040.83L359.91 1040.79L360.46 1040.75L361.02 1040.72L361.57 1040.68L362.13 1040.64L362.68 1040.61L363.24 1040.57L363.79 1040.54L364.35 1040.50L364.91 1040.47L365.46 1040.43L366.02 1040.40L366.57 1040.36L367.13 1040.32L367.68 1040.29L368.24 1040.25L368.79 1040.22L369.35 1040.19L369.90 1040.15L370.46 1040.12L370.74 1040.10L371.02 1040.08L371.57 1040.05L372.13 1040.01L372.68 1039.98L373.24 1039.94L373.79 1039.91L374.35 1039.88L374.90 1039.84L375.46 1039.81L376.01 1039.78L376.57 1039.75L377.13 1039.71L377.68 1039.68L378.24 1039.65L378.79 1039.62L379.35 1039.59L379.90 1039.55L380.46 1039.52L381.01 1039.49L381.57 1039.46L382.12 1039.43L382.68 1039.40L383.24 1039.37L383.79 1039.34L384.35 1039.31L384.90 1039.28L385.46 1039.25L386.01 1039.22L386.57 1039.19L387.12 1039.16L387.68 1039.13L388.23 1039.10L388.79 1039.07L389.35 1039.04L389.90 1039.01L390.46 1038.98L391.01 1038.95L391.57 1038.92L392.12 1038.89L392.68 1038.86L393.23 1038.83L393.79 1038.80L394.34 1038.78L394.90 1038.75L395.46 1038.72L396.01 1038.69L396.57 1038.66L397.12 1038.63L397.68 1038.60L398.23 1038.58L398.79 1038.55L399.34 1038.52L399.90 1038.49L400.45 1038.46L401.01 1038.44L401.57 1038.41L402.12 1038.38L402.68 1038.35L403.23 1038.32L403.79 1038.30L404.34 1038.27L404.90 1038.24L405.45 1038.21L406.01 1038.18L406.56 1038.16L407.12 1038.13L407.68 1038.10L408.23 1038.07L408.79 1038.04L409.34 1038.01L409.90 1037.99L410.45 1037.96L411.01 1037.93L411.56 1037.90L412.12 1037.87L412.67 1037.85L413.23 1037.82L413.79 1037.79L414.34 1037.76L414.90 1037.73L415.45 1037.70L416.01 1037.67L416.56 1037.65L417.12 1037.62L417.67 1037.59L418.23 1037.56L418.78 1037.53L418.90 1037.52L419.34 1037.50L419.90 1037.47L420.45 1037.44L421.01 1037.41L421.56 1037.38L422.12 1037.36L422.67 1037.33L423.23 1037.30L423.78 1037.27L424.34 1037.24L424.89 1037.21L425.45 1037.18L426.01 1037.15L426.56 1037.12L427.12 1037.09L427.67 1037.07L428.23 1037.04L428.78 1037.01L429.34 1036.98L429.89 1036.95L430.45 1036.92L431.00 1036.89L431.56 1036.86L432.12 1036.83L432.67 1036.80L433.23 1036.78L433.78 1036.75L434.34 1036.72L434.89 1036.69L435.45 1036.66L436.00 1036.63L436.56 1036.60L437.11 1036.57L437.67 1036.54L438.23 1036.52L438.78 1036.49L439.34 1036.46L439.89 1036.43L440.45 1036.40L441.00 1036.37L441.56 1036.34L442.11 1036.31L442.67 1036.29L443.22 1036.26L443.78 1036.23L444.34 1036.20L444.89 1036.17L445.45 1036.14L446.00 1036.11L446.56 1036.08L447.11 1036.06L447.67 1036.03L448.22 1036.00L448.78 1035.97L449.33 1035.94L449.89 1035.91L450.45 1035.88L451.00 1035.85L451.56 1035.83L452.11 1035.80L452.67 1035.77L453.22 1035.74L453.78 1035.71L454.33 1035.68L454.89 1035.65L455.44 1035.63L456.00 1035.60L456.56 1035.57L457.11 1035.54L457.67 1035.51L458.22 1035.48L458.78 1035.46L459.33 1035.43L459.89 1035.40L460.44 1035.37L461.00 1035.34L461.55 1035.31L462.11 1035.29L462.67 1035.26L463.22 1035.23L463.78 1035.20L464.33 1035.17L464.89 1035.14L465.44 1035.12L466.00 1035.09L466.55 1035.06L467.11 1035.03L467.66 1035.00L468.22 1034.97L468.78 1034.95L469.33 1034.92L469.89 1034.89L470.44 1034.86L471.00 1034.83L471.55 1034.81L472.11 1034.78L472.66 1034.75L473.22 1034.72L473.77 1034.69L474.33 1034.67L474.89 1034.64L475.44 1034.61L476.00 1034.58L476.55 1034.55L477.11 1034.53L477.66 1034.50L478.22 1034.47L478.77 1034.44L479.33 1034.42L479.88 1034.39L480.44 1034.36L481.00 1034.33L481.55 1034.30L482.11 1034.28L482.66 1034.25L483.22 1034.22L483.77 1034.19L484.33 1034.17L484.88 1034.14L485.44 1034.11L485.99 1034.08L486.55 1034.06L487.11 1034.03L487.66 1034.00L488.22 1033.97L488.50 1033.96L488.77 1033.95L489.33 1033.92L489.88 1033.89L490.44 1033.87L490.99 1033.84L491.55 1033.81L492.10 1033.79L492.66 1033.76L493.22 1033.73L493.77 1033.71L494.33 1033.68L494.88 1033.66L495.44 1033.63L495.99 1033.60L496.55 1033.58L497.10 1033.55L497.66 1033.53L498.21 1033.50L498.77 1033.48L499.33 1033.45L499.88 1033.43L500.44 1033.40L500.99 1033.38L501.55 1033.36L502.10 1033.33L502.66 1033.31L503.21 1033.28L503.77 1033.26L504.32 1033.23L504.88 1033.21L505.44 1033.19L505.99 1033.16L506.55 1033.14L507.10 1033.11L507.66 1033.09L508.21 1033.07L508.77 1033.04L509.32 1033.02L509.88 1032.99L510.43 1032.97L510.99 1032.95L511.55 1032.92L512.10 1032.90L512.66 1032.87L513.21 1032.85L513.77 1032.83L514.32 1032.80L514.88 1032.78L515.43 1032.75L515.99 1032.73L516.54 1032.70L517.10 1032.68L517.66 1032.66L518.21 1032.63L518.77 1032.61L519.32 1032.58L519.88 1032.56L520.43 1032.53L520.99 1032.51L521.54 1032.48L522.10 1032.46L522.65 1032.43L523.21 1032.41L523.77 1032.38L524.32 1032.36L524.88 1032.33L525.43 1032.31L525.99 1032.28L526.54 1032.25L527.10 1032.23L527.65 1032.20L528.21 1032.18L528.76 1032.15L529.32 1032.12L529.88 1032.10L530.43 1032.07L530.99 1032.04L531.54 1032.01L532.10 1031.99L532.65 1031.96L533.21 1031.93L533.76 1031.90L534.32 1031.87L534.87 1031.84L535.43 1031.82L535.99 1031.79L536.54 1031.76L537.10 1031.73L537.65 1031.70L538.21 1031.67L538.76 1031.64L539.32 1031.61L539.87 1031.58L540.43 1031.55L540.98 1031.52L541.54 1031.48L542.10 1031.45L542.65 1031.42L543.21 1031.39L543.76 1031.36L544.32 1031.32L544.87 1031.29L545.43 1031.26L545.98 1031.22L546.54 1031.19L546.55 1031.19L547.09 1031.15L547.65 1031.12L548.21 1031.08L548.76 1031.05L549.32 1031.01L549.87 1030.98L550.43 1030.94L550.98 1030.91L551.54 1030.87L552.09 1030.83L552.65 1030.80L553.20 1030.76L553.76 1030.72L554.32 1030.69L554.87 1030.65L555.43 1030.61L555.98 1030.57L556.54 1030.53L557.09 1030.49L557.65 1030.46L558.20 1030.42L558.76 1030.38L559.31 1030.34L559.87 1030.30L560.43 1030.26L560.98 1030.22L561.54 1030.18L562.09 1030.13L562.65 1030.09L563.20 1030.05L563.76 1030.01L564.31 1029.97L564.87 1029.93L565.42 1029.88L565.98 1029.84L566.54 1029.80L567.09 1029.76L567.65 1029.71L568.20 1029.67L568.76 1029.63L569.31 1029.58L569.87 1029.54L570.42 1029.49L570.98 1029.45L571.53 1029.40L572.09 1029.36L572.65 1029.31L573.20 1029.27L573.76 1029.22L574.31 1029.18L574.87 1029.13L575.42 1029.08L575.98 1029.04L576.53 1028.99L577.09 1028.94L577.64 1028.90L578.20 1028.85L578.76 1028.80L579.31 1028.75L579.87 1028.70L580.42 1028.66L580.98 1028.61L581.53 1028.56L582.09 1028.51L582.64 1028.46L583.20 1028.41L583.75 1028.36L584.31 1028.31L584.87 1028.26L585.42 1028.21L585.98 1028.16L586.53 1028.11L587.09 1028.06L587.64 1028.01L588.20 1027.96L588.75 1027.91L589.31 1027.85L589.86 1027.80L590.42 1027.75L590.98 1027.70L591.53 1027.64L592.09 1027.59L592.64 1027.54L593.20 1027.49L593.75 1027.43L594.31 1027.38L594.86 1027.33L595.42 1027.27L595.97 1027.22L596.53 1027.16L597.09 1027.11L597.64 1027.05L598.20 1027.00L598.75 1026.94L599.31 1026.89L599.86 1026.83L600.42 1026.78L600.97 1026.72L601.53 1026.67L602.08 1026.61L602.64 1026.55L603.20 1026.50L603.75 1026.44L604.31 1026.38L604.86 1026.33L605.42 1026.27L605.97 1026.21L606.53 1026.15L607.08 1026.10L607.64 1026.04L608.19 1025.98L608.75 1025.92L609.31 1025.86L609.86 1025.80L610.42 1025.74L610.97 1025.69L611.53 1025.63L612.08 1025.57L612.64 1025.51L613.19 1025.45L613.75 1025.39L614.30 1025.33L614.86 1025.27L615.42 1025.21L615.97 1025.14L616.53 1025.08L617.08 1025.02L617.64 1024.96L618.19 1024.90L618.75 1024.84L619.30 1024.78L619.86 1024.71L620.41 1024.65L620.97 1024.59L621.53 1024.53L622.08 1024.47L622.64 1024.40L623.19 1024.34L623.75 1024.28L624.30 1024.21L624.86 1024.15L625.41 1024.09L625.97 1024.02L626.52 1023.96L627.08 1023.89L627.36 1023.86" stroke="#FF0000"/>
<path d="M662.25 1051.98L663.36 1051.87L664.47 1051.77L665.58 1051.66L666.69 1051.56L667.80 1051.46L668.91 1051.36L670.02 1051.25L671.13 1051.16L672.24 1051.06L673.36 1050.96L674.47 1050.86L675.58 1050.77L676.69 1050.68L677.80 1050.59L678.91 1050.50L680.02 1050.41L681.13 1050.33L682.24 1050.24L682.91 1050.20L683.35 1050.16L684.46 1050.09L685.58 1050.01L686.69 1049.93L687.80 1049.85L688.91 1049.78L690.02 1049.71L691.13 1049.63L692.24 1049.56L693.35 1049.49L694.46 1049.42L695.57 1049.35L696.68 1049.28L697.80 1049.21L698.91 1049.14L700.02 1049.08L701.13 1049.01L702.24 1048.94L703.35 1048.88L704.46 1048.81L705.57 1048.75L706.68 1048.69L707.79 1048.62L708.90 1048.56L710.02 1048.50L711.13 1048.44L712.24 1048.38L713.35 1048.31L714.46 1048.25L715.57 1048.19L716.68 1048.13L717.79 1048.07L718.90 1048.01L720.01 1047.96L721.12 1047.90L722.24 1047.84L723.35 1047.78L724.46 1047.72L725.57 1047.66L726.35 1047.62L726.68 1047.60L727.79 1047.55L728.90 1047.49L730.01 1047.43L731.12 1047.38L732.23 1047.32L733.34 1047.27L734.46 1047.21L735.57 1047.16L736.68 1047.10L737.79 1047.05L738.90 1047.00L740.01 1046.94L741.12 1046.89L742.23 1046.84L743.34 1046.79L744.45 1046.74L745.56 1046.68L746.68 1046.63L747.79 1046.58L748.90 1046.53L750.01 1046.48L751.12 1046.44L752.23 1046.39L753.34 1046.34L754.45 1046.29L755.56 1046.24L756.67 1046.19L757.78 1046.14L758.90 1046.10L760.01 1046.05L761.12 1046.00L762.23 1045.95L763.34 1045.91L764.45 1045.86L765.56 1045.81L766.67 1045.77L767.78 1045.72L768.89 1045.67L770.00 1045.63L771.12 1045.58L772.23 1045.53L773.34 1045.49L774.45 1045.44L775.56 1045.39L776.67 1045.35L777.78 1045.30L778.89 1045.25L780.00 1045.21L781.11 1045.16L782.22 1045.11L783.34 1045.07L784.45 1045.02L785.56 1044.97L786.67 1044.93L787.78 1044.88L788.89 1044.83L790.00 1044.78L791.11 1044.74L792.22 1044.69L793.33 1044.64L794.44 1044.59L795.56 1044.54L796.67 1044.49L797.78 1044.45L798.89 1044.40L800.00 1044.35L801.11 1044.30L802.22 1044.25L803.33 1044.20L804.44 1044.15L805.55 1044.09L806.66 1044.04L807.78 1043.99L808.89 1043.94L810.00 1043.89L811.11 1043.83L812.22 1043.78L813.33 1043.73L814.44 1043.67L815.55 1043.62L816.66 1043.56L817.77 1043.51L818.88 1043.45L820.00 1043.39L821.11 1043.34L822.22 1043.28L823.33 1043.22L824.44 1043.16L825.55 1043.10L826.16 1043.07L826.66 1043.04L827.77 1042.98L828.88 1042.92L829.99 1042.86L831.10 1042.80L832.22 1042.74L833.33 1042.68L834.44 1042.62L835.55 1042.56L836.66 1042.50L837.77 1042.44L838.88 1042.38L839.99 1042.32L841.10 1042.26L842.21 1042.20L843.32 1042.14L844.44 1042.07L845.55 1042.01L846.66 1041.95L847.77 1041.88L848.88 1041.82L849.99 1041.75L851.10 1041.69L852.21 1041.62L853.32 1041.55L854.43 1041.48L855.54 1041.41L856.66 1041.34L857.77 1041.27L858.88 1041.20L859.99 1041.13L861.10 1041.05L862.21 1040.97L863.32 1040.90L864.43 1040.82L865.54 1040.74L866.65 1040.66L867.76 1040.57L868.88 1040.49L869.99 1040.40L871.10 1040.32L872.21 1040.23L873.32 1040.14L874.43 1040.05L875.54 1039.95L876.15 1039.90L876.65 1039.86L877.76 1039.76L878.87 1039.66L879.98 1039.56L881.10 1039.45L882.21 1039.35L883.32 1039.24L884.43 1039.13L885.54 1039.01L886.65 1038.90L887.76 1038.78L888.87 1038.65L889.98 1038.53L891.09 1038.40L892.20 1038.27L893.32 1038.13L894.43 1037.99L895.54 1037.85L896.65 1037.70L897.76 1037.55L898.87 1037.40L899.98 1037.24L901.09 1037.08L902.20 1036.92L903.31 1036.75L904.42 1036.57L905.54 1036.39L906.65 1036.21L907.76 1036.02L908.87 1035.83L909.37 1035.74L909.98 1035.63L911.09 1035.42L912.20 1035.19L913.31 1034.96L914.42 1034.71L915.53 1034.44L916.64 1034.17L917.76 1033.88L918.87 1033.58L919.98 1033.28L921.09 1032.96L922.20 1032.64L923.31 1032.30L924.42 1031.96L925.53 1031.61L926.64 1031.25L927.75 1030.89L928.86 1030.52L929.98 1030.14L931.09 1029.76L932.20 1029.38L933.31 1028.99L934.36 1028.61L934.42 1028.59L935.53 1028.19L936.64 1027.76L937.75 1027.32L938.86 1026.85L939.97 1026.37L941.08 1025.88L942.20 1025.38L943.31 1024.86L944.42 1024.33L945.53 1023.79L946.64 1023.25L947.75 1022.70L948.86 1022.15L949.97 1021.59L950.97 1021.09L951.08 1021.03L952.19 1020.47L953.30 1019.89L954.42 1019.30L955.53 1018.70L956.64 1018.09L957.75 1017.47L958.86 1016.84L959.97 1016.20L961.08 1015.55L962.19 1014.89L963.30 1014.23L963.41 1014.16" stroke="#FFFF00"/>
<path d="M963.58 1010.79L964.52 1010.20L1327.79 1010.20L1328.24 1012.18" stroke="#000000"/>
<path d="M1328.90 1037.52L1329.18 1041.17L1329.46 1044.71L1329.74 1048.05L1330.01 1051.13L1330.29 1053.85L1330.57 1056.14L1330.85 1058.14L1331.12 1060.04L1331.40 1061.85L1331.68 1063.56L1331.96 1065.16L1332.24 1066.65L1332.51 1068.02L1332.79 1069.28L1333.07 1070.40L1333.35 1071.40L1333.62 1072.26L1333.74 1072.57L1333.90 1073.01L1334.18 1073.70L1334.46 1074.35L1334.73 1074.96L1335.01 1075.53L1335.29 1076.07L1335.57 1076.59L1335.85 1077.07L1336.12 1077.53L1336.40 1077.96L1336.68 1078.37L1336.96 1078.77L1337.23 1079.15L1337.51 1079.51L1337.79 1079.86L1338.07 1080.21L1338.35 1080.55L1338.62 1080.89L1338.90 1081.22L1339.18 1081.55L1339.46 1081.88L1339.73 1082.20L1340.01 1082.52L1340.29 1082.84L1340.57 1083.15L1340.85 1083.46L1341.12 1083.76L1341.40 1084.06L1341.68 1084.35L1341.96 1084.64L1342.23 1084.92L1342.51 1085.20L1342.79 1085.47L1343.07 1085.73L1343.34 1085.99L1343.62 1086.24L1343.90 1086.48L1344.18 1086.72L1344.46 1086.94L1344.73 1087.17L1345.01 1087.38L1345.29 1087.58L1345.57 1087.78L1345.84 1087.97L1346.12 1088.15L1346.40 1088.32L1346.68 1088.48L1346.95 1088.63L1347.23 1088.77L1347.51 1088.91L1347.73 1089.00L1347.79 1089.03L1348.07 1089.15L1348.34 1089.26L1348.62 1089.37L1348.90 1089.49L1349.18 1089.60L1349.45 1089.70L1349.73 1089.81L1350.01 1089.91L1350.29 1090.02L1350.57 1090.12L1350.84 1090.22L1351.12 1090.31L1351.40 1090.41L1351.68 1090.50L1351.95 1090.59L1352.23 1090.68L1352.51 1090.77L1352.79 1090.86L1353.07 1090.95L1353.34 1091.03L1353.62 1091.11L1353.90 1091.19L1354.18 1091.27L1354.45 1091.35L1354.73 1091.43L1355.01 1091.50L1355.29 1091.58L1355.56 1091.65L1355.84 1091.72L1356.12 1091.79L1356.40 1091.86L1356.68 1091.93L1356.95 1091.99L1357.23 1092.06L1357.51 1092.12L1357.79 1092.18L1358.06 1092.24L1358.34 1092.30L1358.62 1092.36L1358.90 1092.42L1359.17 1092.48L1359.45 1092.53L1359.73 1092.59L1360.01 1092.64L1360.29 1092.69L1360.56 1092.74L1360.84 1092.79L1361.12 1092.84L1361.40 1092.89L1361.67 1092.94L1361.95 1092.99L1362.23 1093.03L1362.51 1093.08L1362.79 1093.12L1363.06 1093.17L1363.34 1093.21L1363.62 1093.25L1363.90 1093.29L1364.17 1093.34L1364.34 1093.36L1364.45 1093.38L1364.73 1093.42L1365.01 1093.46L1365.29 1093.49L1365.56 1093.53L1365.84 1093.57L1366.12 1093.61L1366.40 1093.64L1366.67 1093.68L1366.95 1093.72L1367.23 1093.75L1367.51 1093.79L1367.78 1093.82L1368.06 1093.85L1368.34 1093.89L1368.62 1093.92L1368.90 1093.95L1369.17 1093.99L1369.45 1094.02L1369.73 1094.05L1370.01 1094.08L1370.28 1094.11L1370.56 1094.14L1370.84 1094.17L1371.12 1094.20L1371.39 1094.23L1371.67 1094.26L1371.95 1094.29L1372.23 1094.32L1372.51 1094.35L1372.78 1094.37L1373.06 1094.40L1373.34 1094.43L1373.62 1094.45L1373.89 1094.48L1374.17 1094.51L1374.45 1094.53L1374.73 1094.56L1375.01 1094.59L1375.28 1094.61L1375.56 1094.64L1375.84 1094.66L1376.12 1094.69L1376.39 1094.71L1376.67 1094.73L1376.95 1094.76L1377.23 1094.78L1377.51 1094.81L1377.78 1094.83L1378.06 1094.85L1378.34 1094.88L1378.62 1094.90L1378.89 1094.92L1379.17 1094.94L1379.45 1094.97L1379.73 1094.99L1380.00 1095.01L1380.28 1095.03L1380.56 1095.06L1380.84 1095.08L1381.12 1095.10L1381.39 1095.12L1381.67 1095.14L1381.95 1095.17L1382.23 1095.19L1382.50 1095.21L1382.78 1095.23L1383.06 1095.25L1383.34 1095.28L1383.62 1095.30L1383.89 1095.32L1384.17 1095.34L1384.45 1095.36L1384.73 1095.38L1385.00 1095.41L1385.28 1095.43L1385.56 1095.45L1385.84 1095.47L1386.11 1095.49L1386.39 1095.52L1386.67 1095.54L1386.95 1095.56L1387.23 1095.58L1387.50 1095.60L1387.78 1095.63L1388.06 1095.65L1388.34 1095.67L1388.61 1095.69L1388.89 1095.72L1389.11 1095.74L1389.17 1095.74L1389.45 1095.76L1389.72 1095.79L1390.00 1095.81L1390.28 1095.83L1390.56 1095.86L1390.84 1095.88L1391.11 1095.90L1391.39 1095.92L1391.67 1095.95L1391.95 1095.97L1392.22 1095.99L1392.50 1096.01L1392.78 1096.03L1393.06 1096.06L1393.34 1096.08L1393.61 1096.10L1393.89 1096.12L1394.17 1096.14L1394.45 1096.17L1394.72 1096.19L1395.00 1096.21L1395.28 1096.23L1395.56 1096.25L1395.84 1096.27L1396.11 1096.29L1396.39 1096.32L1396.67 1096.34L1396.95 1096.36L1397.22 1096.38L1397.50 1096.40L1397.78 1096.42L1398.06 1096.44L1398.33 1096.46L1398.61 1096.48L1398.89 1096.50L1399.17 1096.53L1399.45 1096.55L1399.72 1096.57L1400.00 1096.59L1400.28 1096.61L1400.56 1096.63L1400.83 1096.65L1401.11 1096.67L1401.39 1096.69L1401.67 1096.71L1401.94 1096.73L1402.22 1096.75L1402.50 1096.77L1402.78 1096.79L1403.06 1096.81L1403.33 1096.83L1403.61 1096.85L1403.89 1096.87L1404.17 1096.89L1404.44 1096.91L1404.72 1096.93L1405.00 1096.95L1405.28 1096.97L1405.56 1096.99L1405.83 1097.01L1406.11 1097.03L1406.39 1097.05L1406.67 1097.07L1406.94 1097.09L1407.22 1097.11L1407.50 1097.13L1407.78 1097.14L1408.06 1097.16L1408.33 1097.18L1408.61 1097.20L1408.89 1097.22L1409.17 1097.24L1409.44 1097.26L1409.72 1097.28L1410.00 1097.30L1410.28 1097.32L1410.55 1097.34L1410.83 1097.36L1411.11 1097.38L1411.39 1097.40L1411.67 1097.42L1411.94 1097.43L1412.22 1097.45L1412.50 1097.47L1412.78 1097.49L1413.05 1097.51L1413.33 1097.53L1413.61 1097.55L1413.89 1097.57L1414.16 1097.59L1414.44 1097.61L1414.72 1097.63L1415.00 1097.65L1415.28 1097.66L1415.55 1097.68L1415.83 1097.70L1416.11 1097.72L1416.39 1097.74L1416.66 1097.76L1416.94 1097.78L1417.22 1097.80L1417.50 1097.82L1417.78 1097.84L1418.05 1097.86L1418.33 1097.88L1418.61 1097.89L1418.89 1097.91L1419.16 1097.93L1419.44 1097.95L1419.72 1097.97L1420.00 1097.99L1420.28 1098.01L1420.55 1098.03L1420.83 1098.05L1421.11 1098.07L1421.39 1098.09L1421.66 1098.10L1421.94 1098.12L1422.22 1098.14L1422.50 1098.16L1422.77 1098.18L1423.05 1098.20L1423.33 1098.22L1423.61 1098.24L1423.89 1098.25L1424.16 1098.27L1424.44 1098.29L1424.72 1098.31L1425.00 1098.33L1425.27 1098.35L1425.55 1098.36L1425.83 1098.38L1426.11 1098.40L1426.38 1098.42L1426.66 1098.44L1426.94 1098.46L1427.22 1098.47L1427.50 1098.49L1427.77 1098.51L1428.05 1098.53L1428.33 1098.55L1428.61 1098.56L1428.88 1098.58L1429.16 1098.60L1429.44 1098.62L1429.72 1098.64L1430.00 1098.65L1430.27 1098.67L1430.55 1098.69L1430.83 1098.71L1431.11 1098.72L1431.38 1098.74L1431.66 1098.76L1431.94 1098.78L1432.22 1098.80L1432.49 1098.81L1432.77 1098.83L1433.05 1098.85L1433.33 1098.87L1433.61 1098.88L1433.88 1098.90L1434.16 1098.92L1434.44 1098.94L1434.72 1098.95L1434.99 1098.97L1435.27 1098.99L1435.55 1099.01L1435.83 1099.02L1436.11 1099.04L1436.38 1099.06L1436.66 1099.08L1436.94 1099.09L1437.22 1099.11L1437.49 1099.13L1437.77 1099.14L1438.05 1099.16L1438.33 1099.18L1438.61 1099.20L1438.88 1099.21L1439.16 1099.23L1439.44 1099.25L1439.72 1099.26L1439.99 1099.28L1440.27 1099.30L1440.55 1099.32L1440.83 1099.33L1441.10 1099.35L1441.38 1099.37L1441.66 1099.38L1441.94 1099.40L1442.22 1099.42L1442.49 1099.44L1442.77 1099.45L1443.05 1099.47L1443.33 1099.49L1443.60 1099.50L1443.88 1099.52L1444.16 1099.54L1444.44 1099.56L1444.71 1099.57L1444.99 1099.59L1445.27 1099.61L1445.55 1099.62L1445.83 1099.64L1446.10 1099.66L1446.38 1099.67L1446.66 1099.69L1446.94 1099.71L1447.21 1099.72L1447.49 1099.74L1447.77 1099.76L1448.05 1099.78L1448.33 1099.79L1448.60 1099.81L1448.88 1099.83L1449.16 1099.84L1449.44 1099.86L1449.71 1099.88L1449.99 1099.89L1450.27 1099.91L1450.55 1099.93L1450.83 1099.95L1451.10 1099.96L1451.38 1099.98L1451.66 1100.00L1451.94 1100.01L1452.21 1100.03L1452.49 1100.05L1452.77 1100.06L1453.05 1100.08L1453.32 1100.10L1453.60 1100.12L1453.88 1100.13L1454.16 1100.15L1454.44 1100.17L1454.71 1100.18L1454.99 1100.20L1455.27 1100.22L1455.55 1100.24L1455.82 1100.25L1456.10 1100.27L1456.38 1100.29L1456.66 1100.30L1456.93 1100.32L1457.21 1100.34L1457.49 1100.36L1457.77 1100.37L1458.05 1100.39L1458.32 1100.41L1458.60 1100.42L1458.88 1100.44L1459.16 1100.46L1459.43 1100.48L1459.71 1100.49L1459.99 1100.51L1460.27 1100.53L1460.55 1100.55L1460.82 1100.56L1461.10 1100.58L1461.38 1100.60L1461.66 1100.62L1461.93 1100.63L1462.21 1100.65L1462.49 1100.67L1462.77 1100.69L1463.05 1100.70L1463.32 1100.72L1463.60 1100.74L1463.88 1100.76L1464.16 1100.77L1464.43 1100.79L1464.71 1100.81L1464.99 1100.83L1465.27 1100.84L1465.54 1100.86L1465.82 1100.88L1466.10 1100.90L1466.38 1100.91L1466.66 1100.93L1466.93 1100.95L1467.21 1100.97L1467.49 1100.99L1467.77 1101.00L1468.04 1101.02L1468.32 1101.04L1468.60 1101.06L1468.88 1101.08L1469.15 1101.09L1469.43 1101.11L1469.71 1101.13L1469.99 1101.15L1470.27 1101.17L1470.54 1101.19L1470.82 1101.20L1471.10 1101.22L1471.38 1101.24L1471.65 1101.26L1471.93 1101.28L1472.21 1101.30L1472.49 1101.31L1472.77 1101.33L1473.04 1101.35L1473.32 1101.37L1473.60 1101.39L1473.88 1101.41L1474.15 1101.43L1474.43 1101.45L1474.71 1101.46L1474.99 1101.48L1475.27 1101.50L1475.54 1101.52L1475.82 1101.54L1476.10 1101.56L1476.38 1101.58L1476.65 1101.60L1476.93 1101.62L1477.21 1101.64L1477.49 1101.65L1477.76 1101.67L1478.04 1101.69L1478.32 1101.71L1478.60 1101.73L1478.88 1101.75L1479.15 1101.77L1479.43 1101.79L1479.71 1101.81L1479.99 1101.83L1480.26 1101.85L1480.54 1101.87L1480.82 1101.89L1481.10 1101.91L1481.38 1101.93L1481.65 1101.95L1481.93 1101.97L1482.21 1101.99L1482.49 1102.01L1482.76 1102.03L1483.04 1102.05L1483.32 1102.07L1483.60 1102.09L1483.87 1102.11L1484.15 1102.13L1484.43 1102.15L1484.71 1102.17L1484.99 1102.19L1485.26 1102.21L1485.54 1102.23L1485.82 1102.25L1486.04 1102.27L1486.10 1102.27L1486.37 1102.29L1486.65 1102.32L1486.93 1102.34L1487.21 1102.36L1487.48 1102.38L1487.76 1102.40L1488.04 1102.42L1488.32 1102.44L1488.60 1102.46L1488.87 1102.48L1489.15 1102.50L1489.43 1102.53L1489.71 1102.55L1489.98 1102.57L1490.26 1102.59L1490.54 1102.61L1490.82 1102.63L1491.10 1102.65L1491.37 1102.68L1491.65 1102.70L1491.93 1102.72L1492.21 1102.74L1492.48 1102.76L1492.76 1102.78L1493.04 1102.80L1493.32 1102.83L1493.60 1102.85L1493.87 1102.87L1494.15 1102.89L1494.43 1102.91L1494.71 1102.93L1494.98 1102.96L1495.26 1102.98L1495.54 1103.00L1495.82 1103.02L1496.09 1103.04L1496.37 1103.07L1496.65 1103.09L1496.93 1103.11L1497.21 1103.13L1497.48 1103.15L1497.76 1103.18L1498.04 1103.20L1498.32 1103.22L1498.59 1103.24L1498.87 1103.27L1499.15 1103.29L1499.43 1103.31L1499.70 1103.33L1499.98 1103.36L1500.26 1103.38L1500.54 1103.40L1500.82 1103.42L1501.09 1103.45L1501.37 1103.47L1501.65 1103.49L1501.93 1103.51L1502.20 1103.54L1502.48 1103.56L1502.76 1103.58L1503.04 1103.60L1503.32 1103.63L1503.59 1103.65L1503.87 1103.67L1504.15 1103.70L1504.43 1103.72L1504.70 1103.74L1504.98 1103.76L1505.26 1103.79L1505.54 1103.81L1505.82 1103.83L1506.09 1103.86L1506.37 1103.88L1506.65 1103.90L1506.93 1103.93L1507.20 1103.95L1507.48 1103.97L1507.76 1104.00L1508.04 1104.02L1508.31 1104.04L1508.59 1104.07L1508.87 1104.09L1509.15 1104.11L1509.43 1104.14L1509.70 1104.16L1509.98 1104.18L1510.26 1104.21L1510.54 1104.23L1510.81 1104.25L1511.09 1104.28L1511.37 1104.30L1511.65 1104.32L1511.92 1104.35L1512.20 1104.37L1512.48 1104.40L1512.76 1104.42L1513.04 1104.44L1513.31 1104.47L1513.59 1104.49L1513.87 1104.51L1514.15 1104.54L1514.42 1104.56L1514.70 1104.59L1514.98 1104.61L1515.26 1104.63L1515.54 1104.66L1515.81 1104.68L1516.09 1104.71L1516.37 1104.73L1516.65 1104.75L1516.92 1104.78L1517.20 1104.80L1517.48 1104.83L1517.76 1104.85L1518.04 1104.88L1518.31 1104.90L1518.59 1104.92L1518.87 1104.95L1519.15 1104.97L1519.42 1105.00L1519.70 1105.02L1519.98 1105.05L1520.26 1105.07L1520.53 1105.09L1520.81 1105.12L1521.09 1105.14L1521.37 1105.17L1521.65 1105.19L1521.92 1105.22L1522.20 1105.24L1522.48 1105.27L1522.76 1105.29L1523.03 1105.32L1523.31 1105.34L1523.59 1105.37L1523.87 1105.39L1524.14 1105.42L1524.42 1105.44L1524.70 1105.47L1524.98 1105.49L1525.26 1105.52L1525.53 1105.54L1525.81 1105.57L1526.09 1105.59L1526.37 1105.62L1526.64 1105.64L1526.92 1105.67L1527.20 1105.69L1527.48 1105.72L1527.76 1105.74L1528.03 1105.77L1528.31 1105.79L1528.59 1105.82L1528.87 1105.84L1529.14 1105.87L1529.42 1105.89L1529.70 1105.92L1529.98 1105.94L1530.26 1105.97L1530.53 1105.99L1530.81 1106.02L1531.09 1106.04L1531.37 1106.07L1531.64 1106.09L1531.92 1106.12L1532.20 1106.15L1532.48 1106.17L1532.75 1106.20L1533.03 1106.22L1533.31 1106.25L1533.59 1106.27L1533.87 1106.30L1534.14 1106.32L1534.42 1106.35L1534.70 1106.38L1534.98 1106.40L1535.25 1106.43L1535.53 1106.45L1535.81 1106.48L1536.09 1106.50L1536.37 1106.53L1536.64 1106.56L1536.92 1106.58L1537.20 1106.61L1537.48 1106.63L1537.75 1106.66L1538.03 1106.69L1538.31 1106.71L1538.59 1106.74L1538.86 1106.76L1539.14 1106.79L1539.42 1106.81L1539.70 1106.84L1539.98 1106.87L1540.25 1106.89L1540.53 1106.92L1540.81 1106.95L1541.09 1106.97L1541.36 1107.00L1541.64 1107.02L1541.92 1107.05L1542.20 1107.08L1542.47 1107.10L1542.75 1107.13L1543.03 1107.15L1543.31 1107.18L1543.59 1107.21L1543.86 1107.23L1544.14 1107.26L1544.42 1107.29L1544.70 1107.31L1544.97 1107.34L1545.25 1107.37L1545.53 1107.39L1545.81 1107.42L1546.09 1107.44L1546.36 1107.47L1546.64 1107.50L1546.92 1107.52L1547.20 1107.55L1547.47 1107.58L1547.75 1107.60L1548.03 1107.63L1548.31 1107.66L1548.59 1107.68L1548.86 1107.71L1549.14 1107.74L1549.42 1107.76L1549.70 1107.79L1549.97 1107.82L1550.25 1107.84L1550.53 1107.87L1550.81 1107.90L1551.08 1107.92L1551.36 1107.95L1551.64 1107.98L1551.92 1108.00L1552.20 1108.03L1552.47 1108.06L1552.75 1108.08L1553.03 1108.11L1553.31 1108.14L1553.58 1108.17L1553.86 1108.19L1554.14 1108.22L1554.42 1108.25L1554.69 1108.27L1554.97 1108.30L1555.25 1108.33L1555.53 1108.35L1555.81 1108.38L1556.08 1108.41L1556.36 1108.44L1556.64 1108.46L1556.92 1108.49L1557.19 1108.52L1557.47 1108.54L1557.75 1108.57L1558.03 1108.60L1558.31 1108.62L1558.58 1108.65L1558.86 1108.68L1559.14 1108.71L1559.42 1108.73L1559.69 1108.76L1559.97 1108.79L1560.25 1108.82L1560.53 1108.84L1560.81 1108.87L1561.08 1108.90L1561.36 1108.92L1561.64 1108.95L1561.92 1108.98L1562.19 1109.01L1562.47 1109.03L1562.75 1109.06L1563.03 1109.09L1563.30 1109.12L1563.58 1109.14L1563.86 1109.17L1564.14 1109.20L1564.42 1109.23L1564.69 1109.25L1564.97 1109.28L1565.25 1109.31L1565.53 1109.33L1565.80 1109.36L1566.08 1109.39L1566.36 1109.42L1566.64 1109.44L1566.91 1109.47L1567.19 1109.50L1567.47 1109.53L1567.75 1109.56L1568.03 1109.58L1568.30 1109.61L1568.58 1109.64L1568.86 1109.67L1569.14 1109.69L1569.41 1109.72L1569.69 1109.75L1569.97 1109.78L1570.25 1109.80L1570.53 1109.83L1570.80 1109.86L1571.08 1109.89L1571.36 1109.91L1571.64 1109.94L1571.91 1109.97L1572.14 1109.99L1572.19 1110.00L1572.47 1110.03L1572.75 1110.05L1573.03 1110.08L1573.30 1110.11L1573.58 1110.14L1573.86 1110.16L1574.14 1110.19L1574.41 1110.22L1574.69 1110.25L1574.97 1110.27L1575.25 1110.30L1575.52 1110.33L1575.80 1110.36L1576.08 1110.38L1576.36 1110.41L1576.64 1110.44L1576.91 1110.47L1577.19 1110.49L1577.47 1110.52L1577.75 1110.55L1578.02 1110.58L1578.30 1110.60L1578.58 1110.63L1578.86 1110.66L1579.13 1110.68L1579.41 1110.71L1579.69 1110.74L1579.97 1110.77L1580.25 1110.79L1580.52 1110.82L1580.80 1110.85L1581.08 1110.88L1581.36 1110.90L1581.63 1110.93L1581.91 1110.96L1582.19 1110.98L1582.47 1111.01L1582.75 1111.04L1583.02 1111.07L1583.30 1111.09L1583.58 1111.12L1583.86 1111.15L1584.13 1111.17L1584.41 1111.20L1584.69 1111.23L1584.97 1111.26L1585.24 1111.28L1585.52 1111.31L1585.80 1111.34L1586.08 1111.36L1586.36 1111.39L1586.63 1111.42L1586.91 1111.45L1587.19 1111.47L1587.47 1111.50L1587.74 1111.53L1588.02 1111.55L1588.30 1111.58L1588.58 1111.61L1588.86 1111.64L1589.13 1111.66L1589.41 1111.69L1589.69 1111.72L1589.97 1111.74L1590.24 1111.77L1590.52 1111.80L1590.80 1111.83L1591.08 1111.85L1591.36 1111.88L1591.63 1111.91L1591.91 1111.94L1592.19 1111.96L1592.47 1111.99L1592.74 1112.02L1593.02 1112.04L1593.30 1112.07L1593.58 1112.10L1593.85 1112.13L1594.13 1112.15L1594.41 1112.18L1594.69 1112.21L1594.97 1112.24L1595.24 1112.26L1595.52 1112.29L1595.80 1112.32L1596.08 1112.34L1596.35 1112.37L1596.63 1112.40L1596.91 1112.43L1597.19 1112.45L1597.46 1112.48L1597.74 1112.51L1598.02 1112.54L1598.30 1112.56L1598.58 1112.59L1598.85 1112.62L1599.13 1112.65L1599.41 1112.67L1599.69 1112.70L1599.96 1112.73L1600.24 1112.76L1600.52 1112.79L1600.80 1112.81L1601.08 1112.84L1601.35 1112.87L1601.63 1112.90L1601.91 1112.92L1602.19 1112.95L1602.46 1112.98L1602.74 1113.01L1603.02 1113.04L1603.30 1113.06L1603.58 1113.09L1603.85 1113.12L1604.13 1113.15L1604.41 1113.18L1604.69 1113.20L1604.96 1113.23L1605.24 1113.26L1605.52 1113.29L1605.80 1113.32L1606.07 1113.34L1606.35 1113.37L1606.63 1113.40L1606.91 1113.43L1607.19 1113.46L1607.46 1113.49L1607.74 1113.51L1608.02 1113.54L1608.30 1113.57L1608.57 1113.60L1608.85 1113.63L1609.13 1113.66L1609.41 1113.69L1609.68 1113.71L1609.96 1113.74L1610.24 1113.77L1610.52 1113.80L1610.80 1113.83L1611.07 1113.86L1611.35 1113.89L1611.63 1113.92L1611.91 1113.95L1612.18 1113.97L1612.46 1114.00L1612.74 1114.03L1613.02 1114.06L1613.30 1114.09L1613.57 1114.12L1613.85 1114.15L1614.13 1114.18L1614.41 1114.21L1614.68 1114.24L1614.96 1114.27L1615.24 1114.30L1615.52 1114.33L1615.80 1114.36L1616.07 1114.39L1616.35 1114.41L1616.63 1114.44L1616.91 1114.47L1617.18 1114.50L1617.46 1114.53L1617.74 1114.56L1618.02 1114.59L1618.29 1114.62L1618.57 1114.65L1618.85 1114.68L1619.13 1114.71L1619.41 1114.74L1619.68 1114.77L1619.96 1114.81L1620.24 1114.84L1620.52 1114.87L1620.79 1114.90L1621.07 1114.93L1621.35 1114.96L1621.63 1114.99L1621.90 1115.02L1622.18 1115.05L1622.46 1115.08L1622.74 1115.11L1623.02 1115.14L1623.29 1115.17L1623.57 1115.20L1623.85 1115.24L1624.13 1115.27L1624.40 1115.30L1624.68 1115.33L1624.96 1115.36L1625.24 1115.39L1625.52 1115.42L1625.79 1115.45L1626.07 1115.49L1626.35 1115.52L1626.63 1115.55L1626.90 1115.58L1627.18 1115.61L1627.46 1115.65L1627.74 1115.68L1628.02 1115.71L1628.29 1115.74L1628.57 1115.77L1628.85 1115.81L1629.13 1115.84L1629.40 1115.87L1629.68 1115.90L1629.96 1115.94L1630.24 1115.97L1630.51 1116.00L1630.79 1116.03L1631.07 1116.07L1631.35 1116.10L1631.63 1116.13L1631.90 1116.17L1632.18 1116.20L1632.46 1116.23L1632.74 1116.26L1633.01 1116.30L1633.29 1116.33L1633.57 1116.36L1633.85 1116.40L1634.12 1116.43L1634.40 1116.47L1634.68 1116.50L1634.96 1116.53L1635.24 1116.57L1635.51 1116.60L1635.79 1116.64L1636.07 1116.67L1636.35 1116.70L1636.62 1116.74L1636.90 1116.77L1637.18 1116.81L1637.46 1116.84L1637.74 1116.88L1638.01 1116.91L1638.29 1116.95L1638.57 1116.98L1638.85 1117.02L1639.12 1117.05L1639.40 1117.09L1639.68 1117.12L1639.96 1117.16L1640.23 1117.19L1640.51 1117.23L1640.79 1117.26L1641.07 1117.30L1641.35 1117.33L1641.62 1117.37L1641.90 1117.41L1642.18 1117.44L1642.46 1117.48L1642.73 1117.51L1643.01 1117.55L1643.29 1117.59L1643.57 1117.62L1643.85 1117.66L1644.12 1117.70L1644.40 1117.73L1644.68 1117.77L1644.96 1117.81L1645.23 1117.84L1645.51 1117.88L1645.79 1117.92L1646.07 1117.95L1646.35 1117.99L1646.62 1118.03L1646.90 1118.07L1647.18 1118.10L1647.46 1118.14L1647.73 1118.18L1648.01 1118.22L1648.29 1118.26L1648.57 1118.29L1648.84 1118.33L1649.12 1118.37L1649.40 1118.41L1649.68 1118.45L1649.96 1118.49L1650.23 1118.52L1650.51 1118.56L1650.79 1118.60L1651.07 1118.64L1651.34 1118.68L1651.62 1118.72L1651.90 1118.76L1652.18 1118.80L1652.45 1118.84L1652.73 1118.88L1653.01 1118.92L1653.29 1118.96L1653.57 1119.00L1653.84 1119.04L1654.12 1119.08L1654.40 1119.12L1654.68 1119.16L1654.95 1119.20L1655.23 1119.24L1655.51 1119.28L1655.79 1119.32L1656.07 1119.36L1656.34 1119.40L1656.62 1119.44L1656.90 1119.49L1657.18 1119.53L1657.45 1119.57L1657.73 1119.61L1658.01 1119.65L1658.29 1119.69L1658.57 1119.74L1658.84 1119.78L1659.12 1119.82L1659.40 1119.86L1659.68 1119.91L1659.95 1119.95L1660.23 1119.99L1660.51 1120.04L1660.79 1120.08L1661.06 1120.13L1661.34 1120.17L1661.62 1120.22L1661.90 1120.26L1662.18 1120.31L1662.45 1120.36L1662.73 1120.40L1663.01 1120.45L1663.29 1120.50L1663.56 1120.54L1663.84 1120.59L1664.12 1120.64L1664.40 1120.69L1664.67 1120.74L1664.95 1120.78L1665.23 1120.83L1665.51 1120.88L1665.79 1120.93L1666.06 1120.98L1666.34 1121.03L1666.62 1121.08L1666.90 1121.13L1667.17 1121.18L1667.45 1121.23L1667.73 1121.28L1668.01 1121.34L1668.29 1121.39L1668.56 1121.44L1668.84 1121.49L1669.12 1121.54L1669.40 1121.60L1669.67 1121.65L1669.95 1121.70L1670.23 1121.76L1670.51 1121.81L1670.79 1121.86L1671.06 1121.92L1671.34 1121.97L1671.62 1122.03L1671.90 1122.08L1672.17 1122.13L1672.45 1122.19L1672.73 1122.24L1673.01 1122.30L1673.28 1122.36L1673.56 1122.41L1673.84 1122.47L1674.12 1122.52L1674.40 1122.58L1674.67 1122.64L1674.95 1122.69L1675.23 1122.75L1675.51 1122.81L1675.78 1122.86L1676.06 1122.92L1676.34 1122.98L1676.62 1123.04L1676.89 1123.09L1677.17 1123.15L1677.45 1123.21L1677.73 1123.27L1678.01 1123.33L1678.28 1123.39L1678.56 1123.45L1678.84 1123.50L1679.12 1123.56L1679.39 1123.62L1679.67 1123.68L1679.95 1123.74L1680.23 1123.80L1680.51 1123.86L1680.78 1123.92L1681.06 1123.98L1681.34 1124.04L1681.62 1124.10L1681.89 1124.16L1682.17 1124.23L1682.45 1124.29L1682.73 1124.35L1683.01 1124.41L1683.28 1124.47L1683.56 1124.53L1683.84 1124.59L1684.12 1124.65L1684.39 1124.72L1684.67 1124.78L1684.95 1124.84L1685.23 1124.90L1685.50 1124.96L1685.78 1125.03L1686.06 1125.09L1686.34 1125.15L1686.62 1125.21L1686.89 1125.28L1687.17 1125.34L1687.45 1125.40L1687.73 1125.47L1688.00 1125.53L1688.28 1125.59L1688.56 1125.66L1688.84 1125.72L1689.12 1125.78L1689.39 1125.85L1689.67 1125.91L1689.95 1125.97L1690.23 1126.04L1690.50 1126.10L1690.78 1126.16L1691.06 1126.23L1691.34 1126.29L1691.61 1126.36L1691.89 1126.42L1692.17 1126.48L1692.45 1126.55L1692.73 1126.61L1693.00 1126.68L1693.28 1126.74L1693.56 1126.81L1693.84 1126.87L1694.11 1126.93L1694.39 1127.00L1694.67 1127.06L1694.95 1127.13L1695.22 1127.19L1695.50 1127.26L1695.78 1127.32L1696.06 1127.39L1696.34 1127.45L1696.61 1127.52L1696.89 1127.58L1697.17 1127.65L1697.45 1127.71L1697.72 1127.78L1698.00 1127.84L1698.28 1127.91L1698.56 1127.97L1698.84 1128.03L1699.11 1128.10L1699.39 1128.16L1699.67 1128.23L1699.95 1128.29L1700.00 1128.31L1700.22 1128.36L1700.50 1128.42L1700.78 1128.49L1701.06 1128.56L1701.34 1128.62L1701.61 1128.69L1701.89 1128.76L1702.17 1128.82L1702.45 1128.89L1702.72 1128.96L1703.00 1129.03L1703.28 1129.09L1703.56 1129.16L1703.83 1129.23L1704.11 1129.30L1704.39 1129.37L1704.67 1129.44L1704.95 1129.51L1705.22 1129.58L1705.50 1129.65L1705.78 1129.72L1706.06 1129.79L1706.33 1129.87L1706.61 1129.94L1706.89 1130.01L1707.17 1130.08L1707.44 1130.15L1707.72 1130.23L1708.00 1130.30L1708.28 1130.37L1708.56 1130.44L1708.83 1130.52L1709.11 1130.59L1709.39 1130.66L1709.67 1130.74L1709.94 1130.81L1710.22 1130.89L1710.50 1130.96L1710.78 1131.04L1711.06 1131.11L1711.33 1131.18L1711.61 1131.26L1711.89 1131.33L1712.17 1131.41L1712.44 1131.49L1712.72 1131.56L1713.00 1131.64L1713.28 1131.71L1713.56 1131.79L1713.83 1131.86L1714.11 1131.94L1714.22 1131.97L1714.39 1132.02L1714.67 1132.09L1714.94 1132.17L1715.22 1132.24L1715.50 1132.32L1715.78 1132.40L1716.05 1132.47L1716.33 1132.55L1716.61 1132.62L1716.89 1132.70L1717.17 1132.78L1717.44 1132.85L1717.72 1132.93L1718.00 1133.01L1718.28 1133.08L1718.55 1133.16L1718.83 1133.24L1719.11 1133.31L1719.39 1133.39L1719.66 1133.47L1719.94 1133.55L1720.22 1133.63L1720.50 1133.70L1720.78 1133.78L1721.05 1133.86L1721.33 1133.94L1721.61 1134.02L1721.89 1134.10L1722.16 1134.18L1722.44 1134.26L1722.72 1134.34L1723.00 1134.42L1723.28 1134.51L1723.55 1134.59L1723.83 1134.67L1724.11 1134.76L1724.39 1134.84L1724.66 1134.92L1724.94 1135.01L1725.22 1135.09L1725.50 1135.18L1725.78 1135.27L1726.05 1135.35L1726.33 1135.44L1726.61 1135.53L1726.89 1135.62L1727.16 1135.71L1727.44 1135.80L1727.72 1135.89L1728.00 1135.98L1728.27 1136.07L1728.44 1136.13L1728.55 1136.17L1728.83 1136.26L1729.11 1136.35L1729.39 1136.45L1729.66 1136.54L1729.94 1136.64L1730.22 1136.74L1730.50 1136.84L1730.77 1136.93L1731.05 1137.03L1731.33 1137.13L1731.61 1137.23L1731.88 1137.34L1732.16 1137.44L1732.44 1137.54L1732.72 1137.64L1733.00 1137.75L1733.27 1137.85L1733.55 1137.96L1733.83 1138.06L1734.11 1138.17L1734.38 1138.28L1734.66 1138.38L1734.94 1138.49L1735.22 1138.60L1735.50 1138.71L1735.77 1138.82L1736.05 1138.93L1736.33 1139.04L1736.61 1139.15L1736.88 1139.26L1737.16 1139.38L1737.44 1139.49L1737.72 1139.60L1737.99 1139.72L1738.27 1139.83L1738.55 1139.95L1738.83 1140.06L1739.11 1140.18L1739.38 1140.29L1739.66 1140.41L1739.94 1140.53L1740.22 1140.65L1740.49 1140.76L1740.77 1140.88L1741.05 1141.00L1741.33 1141.12L1741.61 1141.24L1741.88 1141.36L1742.16 1141.48L1742.44 1141.60L1742.61 1141.67L1742.72 1141.72L1742.99 1141.84L1743.27 1141.96L1743.55 1142.09L1743.83 1142.21L1744.11 1142.33L1744.38 1142.46L1744.66 1142.58L1744.94 1142.70L1745.22 1142.83L1745.49 1142.96L1745.77 1143.08L1746.05 1143.21L1746.33 1143.34L1746.60 1143.46L1746.88 1143.59L1747.16 1143.72L1747.44 1143.85L1747.72 1143.98L1747.99 1144.11L1748.27 1144.24L1748.55 1144.38L1748.83 1144.51L1749.10 1144.64L1749.38 1144.78L1749.66 1144.91L1749.94 1145.05L1750.21 1145.18L1750.49 1145.32L1750.77 1145.46L1751.05 1145.60L1751.33 1145.73L1751.60 1145.87L1751.88 1146.02L1752.16 1146.16L1752.44 1146.30L1752.71 1146.44L1752.99 1146.59L1753.27 1146.73L1753.55 1146.88L1753.83 1147.02L1754.10 1147.17L1754.38 1147.32L1754.66 1147.47L1754.94 1147.62L1755.21 1147.77L1755.49 1147.92L1755.77 1148.07L1756.05 1148.23L1756.33 1148.38L1756.60 1148.54L1756.71 1148.60L1756.88 1148.70L1757.16 1148.86L1757.44 1149.02L1757.71 1149.18L1757.99 1149.35L1758.27 1149.51L1758.55 1149.68L1758.82 1149.85L1759.10 1150.02L1759.38 1150.20L1759.66 1150.37L1759.94 1150.55L1760.21 1150.73L1760.49 1150.91L1760.77 1151.09L1761.05 1151.27L1761.32 1151.46L1761.60 1151.64L1761.88 1151.83L1762.16 1152.02L1762.43 1152.20L1762.71 1152.39L1762.99 1152.58L1763.27 1152.77L1763.55 1152.96L1763.82 1153.16L1764.10 1153.35L1764.38 1153.54L1764.66 1153.73L1764.93 1153.92L1765.21 1154.11L1765.49 1154.30L1765.77 1154.49L1766.05 1154.68L1766.32 1154.88L1766.60 1155.07L1766.88 1155.27L1767.16 1155.47L1767.43 1155.67L1767.71 1155.87L1767.99 1156.08L1768.27 1156.28L1768.55 1156.50L1768.82 1156.71L1769.10 1156.93L1769.38 1157.16L1769.66 1157.39L1769.93 1157.62L1770.21 1157.86L1770.49 1158.10L1770.77 1158.35L1770.93 1158.50L1771.04 1158.60L1771.32 1158.86L1771.60 1159.13L1771.88 1159.39L1772.16 1159.66L1772.43 1159.94L1772.71 1160.22L1772.99 1160.50L1773.27 1160.79L1773.54 1161.08L1773.82 1161.37L1774.10 1161.67L1774.38 1161.98L1774.65 1162.28L1774.93 1162.60L1775.21 1162.91L1775.49 1163.23L1775.77 1163.56L1776.04 1163.89L1776.32 1164.22L1776.60 1164.56L1776.88 1164.90L1777.15 1165.25L1777.43 1165.60L1777.71 1165.95L1777.99 1166.32L1778.27 1166.68L1778.54 1167.05L1778.82 1167.43L1779.10 1167.80L1779.38 1168.19L1779.65 1168.58L1779.93 1168.97L1780.21 1169.37L1780.49 1169.77L1780.77 1170.18L1781.04 1170.59L1781.32 1171.01L1781.60 1171.43L1781.88 1171.86L1782.15 1172.29L1782.43 1172.73L1782.71 1173.17L1782.82 1173.35L1782.99 1173.63L1783.26 1174.11L1783.54 1174.62L1783.82 1175.16L1784.10 1175.71L1784.38 1176.28L1784.65 1176.87L1784.93 1177.46L1785.21 1178.06L1785.49 1178.66L1785.76 1179.26L1786.04 1179.84L1786.32 1180.42L1786.54 1180.88L1786.60 1180.99L1786.88 1181.54L1787.15 1182.08L1787.43 1182.62L1787.71 1183.16L1787.99 1183.69L1788.26 1184.23L1788.54 1184.77L1788.82 1185.32L1789.10 1185.88L1789.37 1186.45L1789.65 1187.03L1789.93 1187.63L1790.10 1188.00L1790.21 1188.26L1790.49 1188.90L1790.76 1189.56L1791.04 1190.25L1791.32 1190.95L1791.60 1191.66L1791.87 1192.38L1792.15 1193.10L1792.43 1193.83L1792.71 1194.55L1792.93 1195.13L1792.98 1195.28L1793.26 1196.00L1793.54 1196.72L1793.82 1197.44L1794.10 1198.17L1794.37 1198.90L1794.65 1199.65L1794.93 1200.40L1795.21 1201.16L1795.48 1201.94L1795.60 1202.26L1795.76 1202.74L1796.04 1203.54L1796.32 1204.36L1796.60 1205.19L1796.87 1206.03L1797.15 1206.89L1797.43 1207.77L1797.71 1208.66L1797.93 1209.39L1797.98 1209.57L1798.26 1210.49L1798.54 1211.42L1798.82 1212.37L1799.10 1213.35L1799.37 1214.36L1799.65 1215.43L1799.87 1216.32L1799.93 1216.55L1800.21 1217.73L1800.48 1218.99L1800.76 1220.31L1801.04 1221.70L1801.32 1223.15L1801.37 1223.45L1801.59 1224.67L1801.87 1226.28L1802.15 1227.98L1802.43 1229.74L1802.71 1231.55L1802.98 1233.40L1803.15 1234.53L1803.26 1235.29L1803.54 1237.18L1803.82 1239.09L1804.09 1241.04L1804.37 1243.06L1804.65 1245.16L1804.93 1247.36L1805.20 1249.68L1805.48 1252.16L1805.76 1254.82L1806.04 1257.69L1806.32 1260.78L1806.59 1264.08L1806.87 1267.58L1807.04 1269.78L1807.15 1271.31L1807.43 1275.43L1807.70 1279.91L1807.98 1284.66L1808.15 1287.60L1808.26 1289.60L1808.54 1294.86L1808.82 1300.47L1809.04 1305.22L1809.09 1306.45L1809.37 1312.92L1809.65 1319.86L1809.82 1324.23" stroke="#FF00FF"/>
</g>
<g class="tl"><text x="183.00" y="1595.00" text-anchor="middle">0</text><text x="460.73" y="1595.00" text-anchor="middle">500</text><text x="738.45" y="1595.00" text-anchor="middle">1000</text><text x="1016.18" y="1595.00" text-anchor="middle">1500</text><text x="1293.91" y="1595.00" text-anchor="middle">2000</text><text x="1571.64" y="1595.00" text-anchor="middle">2500</text><text x="1849.36" y="1595.00" text-anchor="middle">3000</text><text x="160.50" y="1539.00" text-anchor="end">1</text><text x="160.50" y="1440.00" text-anchor="end">1.5</text><text x="160.50" y="1341.00" text-anchor="end">2</text><text x="160.50" y="1242.00" text-anchor="end">2.5</text><text x="160.50" y="1143.00" text-anchor="end">3</text><text x="160.50" y="1044.00" text-anchor="end">3.5</text><text x="160.50" y="945.00" text-anchor="end">4</text></g>
<rect x="848.30" y="1222.30" width="502.20" height="292.20" fill="#ffffff" stroke="#262626" stroke-width="3.6"/>
<path d="M865.30 1257.00H1035.30" stroke="#0072BD" stroke-width="12.4"/>
<text class="lg" transform="translate(1047.20 1274.90) scale(1 1.08)">Voltage</text>
<path d="M865.30 1313.00H1035.30" stroke="#FF0000" stroke-width="12.4"/>
<text class="lg" transform="translate(1047.20 1330.90) scale(1 1.08)">Step 1 CC-3.6C</text>
<path d="M865.30 1368.60H1035.30" stroke="#FFFF00" stroke-width="12.4"/>
<text class="lg" transform="translate(1047.20 1386.50) scale(1 1.08)">1C CC Charge</text>
<path d="M865.30 1423.90H1035.30" stroke="#000000" stroke-width="12.4"/>
<text class="lg" transform="translate(1047.20 1441.80) scale(1 1.08)">CV Charge</text>
<path d="M865.30 1479.90H1035.30" stroke="#FF00FF" stroke-width="12.4"/>
<text class="lg" transform="translate(1047.20 1497.80) scale(1 1.08)">4C Discharge</text>
</g>
<text class="title" x="1099.5" y="68.3" text-anchor="middle">Policy Battery 1 Cycle 100</text>
<text class="al" x="1099.5" y="835" text-anchor="middle">Time (s)</text>
<text class="al" x="1099.5" y="1674.6" text-anchor="middle">Time (s)</text>
<text class="al" transform="translate(58 389) rotate(-90)" text-anchor="middle">Current (A)</text>
<text class="al" transform="translate(58.2 1229.5) rotate(-90)" text-anchor="middle">Voltage (V)</text>
</svg>
</body></html>
